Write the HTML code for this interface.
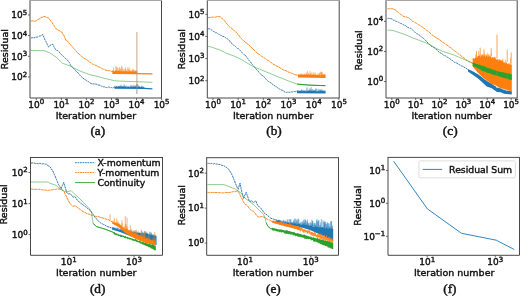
<!DOCTYPE html>
<html><head><meta charset="utf-8"><title>Residual plots</title>
<style>
html,body{margin:0;padding:0;background:#fff;width:520px;height:296px;overflow:hidden}
svg{display:block;filter:blur(0.4px)}
.t{font-family:"DejaVu Sans","Liberation Sans",sans-serif;font-size:9.0px;fill:#111;stroke:#111;stroke-width:0.4}
.s{font-size:7.0px}
.l{font-family:"DejaVu Sans","Liberation Sans",sans-serif;font-size:9.5px;fill:#111;stroke:#111;stroke-width:0.4}
.c{font-family:"Liberation Serif","DejaVu Serif",serif;font-size:13.3px;fill:#111;stroke:#111;stroke-width:0.45}
.lg{font-size:9.3px}
.sp{fill:none;stroke:#484848;stroke-width:1.0}
.tk{stroke:#444;stroke-width:0.8}
</style></head><body>
<svg width="520" height="296" viewBox="0 0 520 296">
<rect width="520" height="296" fill="#fff"/>
<polyline points="30.80,38.00 31.87,37.80 32.94,37.74 34.01,37.91 35.09,37.34 36.16,37.22 37.23,37.14 38.30,36.90 39.45,36.04 40.60,35.76 41.75,35.29 42.90,34.60 44.05,37.71 45.20,40.30 46.33,42.23 47.47,44.72 48.60,47.20 49.80,45.68 51.00,44.90 52.80,44.20 54.15,47.13 55.50,49.50 56.67,50.44 57.83,50.62 59.00,51.80 60.13,53.37 61.27,54.48 62.40,55.20 63.53,56.51 64.67,57.64 65.80,58.70 66.95,59.54 68.10,61.00 69.27,62.46 70.43,64.83 71.60,66.70 72.75,67.45 73.90,68.72 75.05,69.92 76.20,71.30 77.33,72.03 78.47,73.57 79.60,74.70 80.73,76.21 81.87,77.07 83.00,78.20 84.15,79.09 85.30,79.73 86.45,80.65 87.60,81.23 88.75,81.83 89.90,82.80 90.92,83.49 91.94,83.73 92.96,83.83 93.98,83.95 95.00,84.00 96.00,84.17 97.00,84.42 98.00,85.00 99.06,85.11 100.12,85.21 101.19,86.14 102.25,86.11 103.31,86.81 104.38,86.70 105.44,87.51 106.50,87.40 107.50,87.74 108.50,87.00 109.50,87.21 110.50,87.87 111.50,87.50 112.50,87.98 113.50,87.48 114.50,87.60" fill="none" stroke="#2068a4" stroke-width="0.85" stroke-dasharray="2.2 0.6" stroke-linejoin="round"/>
<polygon points="114.50,86.17 115.00,86.74 115.50,86.89 116.00,86.39 116.50,86.21 117.00,86.47 117.50,87.10 118.00,86.90 118.50,86.27 119.00,86.41 119.50,86.27 120.00,86.23 120.50,86.98 121.00,86.36 121.50,86.75 122.00,86.65 122.50,86.40 123.00,86.95 123.50,86.35 124.00,86.87 124.50,86.35 125.00,86.66 125.50,86.46 126.00,86.52 126.50,87.23 127.00,87.07 127.50,86.58 128.00,87.17 128.50,86.50 129.00,86.69 129.50,87.16 130.00,86.95 130.50,86.41 131.00,87.31 131.50,86.54 132.00,86.59 132.50,87.11 133.00,86.68 133.50,86.65 134.00,86.43 134.50,86.46 135.00,86.96 135.50,86.62 136.00,86.99 136.50,86.77 137.00,86.85 137.50,87.37 138.00,86.90 138.50,87.00 139.00,87.29 139.50,86.62 140.00,86.60 140.50,87.36 141.00,87.27 141.50,86.71 142.00,86.66 142.50,87.21 143.00,87.42 143.50,86.68 144.00,87.44 144.40,87.00 144.40,89.00 114.50,88.70" fill="#1f77b4"/>
<line x1="114.80" y1="85.63" x2="114.80" y2="87.10" stroke="#1f77b4" stroke-width="0.45"/>
<line x1="115.45" y1="86.27" x2="115.45" y2="87.11" stroke="#1f77b4" stroke-width="0.45"/>
<line x1="115.86" y1="86.61" x2="115.86" y2="87.12" stroke="#1f77b4" stroke-width="0.45"/>
<line x1="116.68" y1="86.45" x2="116.68" y2="87.13" stroke="#1f77b4" stroke-width="0.45"/>
<line x1="117.38" y1="86.42" x2="117.38" y2="87.14" stroke="#1f77b4" stroke-width="0.45"/>
<line x1="118.14" y1="85.71" x2="118.14" y2="87.15" stroke="#1f77b4" stroke-width="0.45"/>
<line x1="118.64" y1="86.52" x2="118.64" y2="87.16" stroke="#1f77b4" stroke-width="0.45"/>
<line x1="119.34" y1="86.63" x2="119.34" y2="87.16" stroke="#1f77b4" stroke-width="0.45"/>
<line x1="119.81" y1="85.78" x2="119.81" y2="87.17" stroke="#1f77b4" stroke-width="0.45"/>
<line x1="120.58" y1="85.63" x2="120.58" y2="87.18" stroke="#1f77b4" stroke-width="0.45"/>
<line x1="121.08" y1="84.67" x2="121.08" y2="87.19" stroke="#1f77b4" stroke-width="0.45"/>
<line x1="121.53" y1="86.69" x2="121.53" y2="87.19" stroke="#1f77b4" stroke-width="0.45"/>
<line x1="122.02" y1="86.05" x2="122.02" y2="87.20" stroke="#1f77b4" stroke-width="0.45"/>
<line x1="122.41" y1="86.56" x2="122.41" y2="87.21" stroke="#1f77b4" stroke-width="0.45"/>
<line x1="122.95" y1="85.72" x2="122.95" y2="87.21" stroke="#1f77b4" stroke-width="0.45"/>
<line x1="123.37" y1="86.24" x2="123.37" y2="87.22" stroke="#1f77b4" stroke-width="0.45"/>
<line x1="124.16" y1="84.31" x2="124.16" y2="87.23" stroke="#1f77b4" stroke-width="0.45"/>
<line x1="124.83" y1="85.34" x2="124.83" y2="87.24" stroke="#1f77b4" stroke-width="0.45"/>
<line x1="125.47" y1="86.64" x2="125.47" y2="87.25" stroke="#1f77b4" stroke-width="0.45"/>
<line x1="125.85" y1="86.75" x2="125.85" y2="87.25" stroke="#1f77b4" stroke-width="0.45"/>
<line x1="126.65" y1="85.35" x2="126.65" y2="87.26" stroke="#1f77b4" stroke-width="0.45"/>
<line x1="127.47" y1="86.77" x2="127.47" y2="87.27" stroke="#1f77b4" stroke-width="0.45"/>
<line x1="128.14" y1="86.02" x2="128.14" y2="87.28" stroke="#1f77b4" stroke-width="0.45"/>
<line x1="128.85" y1="86.40" x2="128.85" y2="87.29" stroke="#1f77b4" stroke-width="0.45"/>
<line x1="129.69" y1="86.76" x2="129.69" y2="87.30" stroke="#1f77b4" stroke-width="0.45"/>
<line x1="130.31" y1="85.35" x2="130.31" y2="87.31" stroke="#1f77b4" stroke-width="0.45"/>
<line x1="131.10" y1="85.37" x2="131.10" y2="87.32" stroke="#1f77b4" stroke-width="0.45"/>
<line x1="131.80" y1="85.22" x2="131.80" y2="87.33" stroke="#1f77b4" stroke-width="0.45"/>
<line x1="132.60" y1="86.40" x2="132.60" y2="87.34" stroke="#1f77b4" stroke-width="0.45"/>
<line x1="133.29" y1="84.81" x2="133.29" y2="87.35" stroke="#1f77b4" stroke-width="0.45"/>
<line x1="134.06" y1="86.25" x2="134.06" y2="87.36" stroke="#1f77b4" stroke-width="0.45"/>
<line x1="134.80" y1="84.89" x2="134.80" y2="87.37" stroke="#1f77b4" stroke-width="0.45"/>
<line x1="135.44" y1="85.68" x2="135.44" y2="87.38" stroke="#1f77b4" stroke-width="0.45"/>
<line x1="135.98" y1="85.80" x2="135.98" y2="87.39" stroke="#1f77b4" stroke-width="0.45"/>
<line x1="136.63" y1="86.85" x2="136.63" y2="87.40" stroke="#1f77b4" stroke-width="0.45"/>
<line x1="137.30" y1="84.26" x2="137.30" y2="87.41" stroke="#1f77b4" stroke-width="0.45"/>
<line x1="138.08" y1="85.29" x2="138.08" y2="87.42" stroke="#1f77b4" stroke-width="0.45"/>
<line x1="138.63" y1="85.34" x2="138.63" y2="87.42" stroke="#1f77b4" stroke-width="0.45"/>
<line x1="139.27" y1="86.27" x2="139.27" y2="87.43" stroke="#1f77b4" stroke-width="0.45"/>
<line x1="140.03" y1="86.90" x2="140.03" y2="87.44" stroke="#1f77b4" stroke-width="0.45"/>
<line x1="140.75" y1="86.94" x2="140.75" y2="87.45" stroke="#1f77b4" stroke-width="0.45"/>
<line x1="141.40" y1="86.33" x2="141.40" y2="87.46" stroke="#1f77b4" stroke-width="0.45"/>
<line x1="141.87" y1="85.88" x2="141.87" y2="87.47" stroke="#1f77b4" stroke-width="0.45"/>
<line x1="142.47" y1="86.15" x2="142.47" y2="87.47" stroke="#1f77b4" stroke-width="0.45"/>
<line x1="143.27" y1="86.80" x2="143.27" y2="87.48" stroke="#1f77b4" stroke-width="0.45"/>
<line x1="143.64" y1="86.76" x2="143.64" y2="87.49" stroke="#1f77b4" stroke-width="0.45"/>
<polyline points="144.00,88.40 152.40,88.80" fill="none" stroke="#1f77b4" stroke-width="1.2" stroke-linejoin="round"/>
<polyline points="30.80,21.10 32.00,20.90 33.20,20.85 34.40,21.27 35.60,21.00 36.70,20.42 37.80,19.62 38.90,19.21 40.00,18.30 41.00,17.72 42.00,17.45 43.00,16.69 44.00,16.40 45.08,16.68 46.15,17.23 47.22,17.62 48.30,17.70 49.53,19.53 50.77,20.83 52.00,22.50 53.30,24.62 54.60,26.52 55.90,28.70 56.93,29.08 57.97,29.90 59.00,30.50 60.40,31.45 61.80,32.00 63.00,34.21 64.20,36.00 65.90,40.30 67.60,41.10 68.65,42.50 69.70,43.92 70.75,44.79 71.80,46.20 72.82,47.18 73.84,48.53 74.86,49.61 75.88,50.75 76.90,52.10 77.92,52.95 78.93,53.98 79.95,54.80 80.97,55.59 81.98,56.80 83.00,57.50 84.15,58.49 85.30,58.90 86.45,59.69 87.60,60.28 88.75,61.07 89.90,62.39 91.05,62.71 92.20,63.80 93.60,64.53 95.00,65.00 96.00,65.54 97.00,65.89 98.00,66.50 99.05,67.25 100.10,67.36 101.15,68.01 102.20,68.80 103.47,69.24 104.73,69.45 106.00,70.20 107.10,70.63 108.20,70.51 109.30,70.68 110.40,70.86 111.50,71.44 112.60,71.60" fill="none" stroke="#ff7f0e" stroke-width="0.95" stroke-dasharray="3 0.5" stroke-linejoin="round"/>
<polygon points="112.40,70.85 112.90,71.04 113.40,71.07 113.90,71.23 114.40,71.39 114.90,71.12 115.40,70.65 115.90,70.93 116.40,70.64 116.90,70.48 117.40,70.95 117.90,71.20 118.40,70.68 118.90,70.78 119.40,70.86 119.90,71.22 120.40,71.05 120.90,71.15 121.40,71.30 121.90,70.95 122.40,71.35 122.90,71.48 123.40,70.66 123.90,71.52 124.40,71.32 124.90,70.73 125.40,71.06 125.90,71.24 126.40,71.54 126.90,71.01 127.40,71.21 127.90,71.53 128.40,71.45 128.90,71.61 129.40,71.14 129.90,71.33 130.40,70.90 130.90,71.42 131.40,71.52 131.90,71.36 132.40,71.44 132.90,70.94 133.40,71.64 133.90,71.73 134.40,71.73 134.90,71.30 135.40,71.56 135.90,71.10 136.40,71.70 136.90,71.65 137.20,71.30 137.20,74.30 112.40,73.90" fill="#ff7f0e"/>
<line x1="112.70" y1="70.21" x2="112.70" y2="71.40" stroke="#ff7f0e" stroke-width="0.45"/>
<line x1="113.03" y1="69.66" x2="113.03" y2="71.41" stroke="#ff7f0e" stroke-width="0.45"/>
<line x1="113.55" y1="67.38" x2="113.55" y2="71.42" stroke="#ff7f0e" stroke-width="0.45"/>
<line x1="114.05" y1="70.87" x2="114.05" y2="71.43" stroke="#ff7f0e" stroke-width="0.45"/>
<line x1="114.67" y1="70.76" x2="114.67" y2="71.44" stroke="#ff7f0e" stroke-width="0.45"/>
<line x1="115.29" y1="70.27" x2="115.29" y2="71.45" stroke="#ff7f0e" stroke-width="0.45"/>
<line x1="115.73" y1="66.07" x2="115.73" y2="71.45" stroke="#ff7f0e" stroke-width="0.45"/>
<line x1="116.08" y1="70.40" x2="116.08" y2="71.46" stroke="#ff7f0e" stroke-width="0.45"/>
<line x1="116.59" y1="66.59" x2="116.59" y2="71.47" stroke="#ff7f0e" stroke-width="0.45"/>
<line x1="117.22" y1="66.86" x2="117.22" y2="71.48" stroke="#ff7f0e" stroke-width="0.45"/>
<line x1="117.90" y1="68.32" x2="117.90" y2="71.49" stroke="#ff7f0e" stroke-width="0.45"/>
<line x1="118.58" y1="70.73" x2="118.58" y2="71.50" stroke="#ff7f0e" stroke-width="0.45"/>
<line x1="118.97" y1="68.23" x2="118.97" y2="71.51" stroke="#ff7f0e" stroke-width="0.45"/>
<line x1="119.39" y1="66.96" x2="119.39" y2="71.51" stroke="#ff7f0e" stroke-width="0.45"/>
<line x1="119.94" y1="68.54" x2="119.94" y2="71.52" stroke="#ff7f0e" stroke-width="0.45"/>
<line x1="120.58" y1="68.33" x2="120.58" y2="71.53" stroke="#ff7f0e" stroke-width="0.45"/>
<line x1="121.00" y1="69.40" x2="121.00" y2="71.54" stroke="#ff7f0e" stroke-width="0.45"/>
<line x1="121.64" y1="66.03" x2="121.64" y2="71.55" stroke="#ff7f0e" stroke-width="0.45"/>
<line x1="122.03" y1="66.39" x2="122.03" y2="71.56" stroke="#ff7f0e" stroke-width="0.45"/>
<line x1="122.71" y1="68.58" x2="122.71" y2="71.57" stroke="#ff7f0e" stroke-width="0.45"/>
<line x1="123.24" y1="70.36" x2="123.24" y2="71.57" stroke="#ff7f0e" stroke-width="0.45"/>
<line x1="123.76" y1="68.72" x2="123.76" y2="71.58" stroke="#ff7f0e" stroke-width="0.45"/>
<line x1="124.30" y1="71.04" x2="124.30" y2="71.59" stroke="#ff7f0e" stroke-width="0.45"/>
<line x1="124.99" y1="68.81" x2="124.99" y2="71.60" stroke="#ff7f0e" stroke-width="0.45"/>
<line x1="125.45" y1="67.19" x2="125.45" y2="71.61" stroke="#ff7f0e" stroke-width="0.45"/>
<line x1="125.97" y1="69.12" x2="125.97" y2="71.62" stroke="#ff7f0e" stroke-width="0.45"/>
<line x1="126.55" y1="70.99" x2="126.55" y2="71.63" stroke="#ff7f0e" stroke-width="0.45"/>
<line x1="127.06" y1="69.66" x2="127.06" y2="71.64" stroke="#ff7f0e" stroke-width="0.45"/>
<line x1="127.75" y1="66.96" x2="127.75" y2="71.65" stroke="#ff7f0e" stroke-width="0.45"/>
<line x1="128.15" y1="69.39" x2="128.15" y2="71.65" stroke="#ff7f0e" stroke-width="0.45"/>
<line x1="128.51" y1="69.59" x2="128.51" y2="71.66" stroke="#ff7f0e" stroke-width="0.45"/>
<line x1="129.13" y1="67.09" x2="129.13" y2="71.67" stroke="#ff7f0e" stroke-width="0.45"/>
<line x1="129.62" y1="70.13" x2="129.62" y2="71.68" stroke="#ff7f0e" stroke-width="0.45"/>
<line x1="130.00" y1="68.68" x2="130.00" y2="71.68" stroke="#ff7f0e" stroke-width="0.45"/>
<line x1="130.67" y1="70.89" x2="130.67" y2="71.69" stroke="#ff7f0e" stroke-width="0.45"/>
<line x1="131.28" y1="71.18" x2="131.28" y2="71.70" stroke="#ff7f0e" stroke-width="0.45"/>
<line x1="131.66" y1="70.66" x2="131.66" y2="71.71" stroke="#ff7f0e" stroke-width="0.45"/>
<line x1="132.23" y1="70.39" x2="132.23" y2="71.72" stroke="#ff7f0e" stroke-width="0.45"/>
<line x1="132.68" y1="69.28" x2="132.68" y2="71.73" stroke="#ff7f0e" stroke-width="0.45"/>
<line x1="133.02" y1="68.82" x2="133.02" y2="71.73" stroke="#ff7f0e" stroke-width="0.45"/>
<line x1="133.37" y1="69.72" x2="133.37" y2="71.74" stroke="#ff7f0e" stroke-width="0.45"/>
<line x1="133.77" y1="70.80" x2="133.77" y2="71.74" stroke="#ff7f0e" stroke-width="0.45"/>
<line x1="134.28" y1="70.04" x2="134.28" y2="71.75" stroke="#ff7f0e" stroke-width="0.45"/>
<line x1="134.73" y1="70.32" x2="134.73" y2="71.76" stroke="#ff7f0e" stroke-width="0.45"/>
<line x1="135.24" y1="71.06" x2="135.24" y2="71.77" stroke="#ff7f0e" stroke-width="0.45"/>
<line x1="135.62" y1="70.30" x2="135.62" y2="71.77" stroke="#ff7f0e" stroke-width="0.45"/>
<line x1="136.18" y1="70.72" x2="136.18" y2="71.78" stroke="#ff7f0e" stroke-width="0.45"/>
<line x1="136.82" y1="70.61" x2="136.82" y2="71.79" stroke="#ff7f0e" stroke-width="0.45"/>
<polyline points="137.20,73.60 152.40,73.90" fill="none" stroke="#ff7f0e" stroke-width="1.4" stroke-linejoin="round"/>
<polyline points="30.80,50.60 44.00,50.60 49.80,52.90 56.70,57.50 62.40,63.30 65.80,64.40 71.60,66.70 76.90,69.50 80.80,71.30 89.90,74.70 95.00,75.80 98.00,76.60 108.80,79.40 114.50,80.70 118.00,81.00 137.00,81.70 152.40,82.30" fill="none" stroke="#2ca02c" stroke-width="0.85" stroke-opacity="0.62" stroke-linejoin="round"/>
<line x1="136.90" y1="32.00" x2="136.90" y2="89.00" stroke="#b08c5c" stroke-width="0.75"/>
<line x1="136.90" y1="84.00" x2="136.90" y2="94.00" stroke="#6a7f96" stroke-width="0.75"/>
<polyline points="207.80,28.80 209.70,28.80 210.90,29.36 212.10,30.54 213.30,31.37 214.50,31.90 215.51,32.74 216.53,32.78 217.54,33.29 218.56,34.30 219.57,34.25 220.59,35.38 221.60,35.50 222.78,36.51 223.96,36.61 225.14,37.39 226.32,38.48 227.50,39.00 228.68,39.99 229.86,41.04 231.04,42.81 232.22,43.66 233.40,44.90 234.41,45.97 235.43,46.29 236.44,47.35 237.46,48.42 238.47,48.73 239.49,49.72 240.50,50.80 241.68,52.13 242.86,53.49 244.04,54.71 245.22,55.21 246.40,56.70 247.60,58.30 248.80,60.11 250.00,61.50 251.16,63.00 252.32,64.65 253.48,65.75 254.64,67.16 255.80,69.00 256.80,69.76 257.80,70.78 258.80,72.27 259.80,73.30 260.89,74.30 261.98,75.33 263.07,75.98 264.16,77.00 265.24,78.01 266.33,79.51 267.42,80.61 268.51,81.55 269.60,82.20 270.69,82.63 271.78,83.36 272.87,84.83 273.96,85.19 275.04,86.19 276.13,86.59 277.22,87.46 278.31,88.26 279.40,89.00 280.55,89.53 281.70,90.25 282.85,90.36 284.00,91.49 285.15,92.19 286.30,92.50 287.52,92.12 288.75,92.21 289.98,92.32 291.20,92.00 292.33,91.86 293.47,91.62 294.60,91.53 295.73,91.74 296.87,91.28 298.00,91.60" fill="none" stroke="#2068a4" stroke-width="0.85" stroke-dasharray="2.2 0.6" stroke-linejoin="round"/>
<polygon points="297.00,91.19 297.50,91.11 298.00,91.01 298.50,91.17 299.00,90.94 299.50,90.72 300.00,90.92 300.50,90.83 301.00,91.31 301.50,91.14 302.00,90.59 302.50,91.25 303.00,91.09 303.50,91.12 304.00,91.16 304.50,90.76 305.00,91.25 305.50,91.24 306.00,91.06 306.50,91.13 307.00,91.14 307.50,90.78 308.00,91.10 308.50,90.45 309.00,90.73 309.50,90.86 310.00,90.40 310.50,90.75 311.00,91.04 311.50,91.03 312.00,90.64 312.50,91.35 313.00,91.08 313.50,90.75 314.00,91.08 314.50,90.99 315.00,90.96 315.50,90.82 316.00,91.43 316.50,91.08 317.00,91.14 317.50,91.21 318.00,91.43 318.50,90.47 319.00,91.07 319.50,91.20 320.00,90.72 320.50,90.87 321.00,90.52 321.50,90.67 322.00,90.85 322.50,90.58 323.00,90.73 323.50,91.39 324.00,91.04 324.50,91.00 325.00,91.46 325.50,91.07 325.60,91.00 325.60,93.50 297.00,93.20" fill="#1f77b4"/>
<line x1="297.30" y1="89.96" x2="297.30" y2="91.30" stroke="#1f77b4" stroke-width="0.45"/>
<line x1="297.97" y1="90.12" x2="297.97" y2="91.31" stroke="#1f77b4" stroke-width="0.45"/>
<line x1="298.36" y1="90.35" x2="298.36" y2="91.31" stroke="#1f77b4" stroke-width="0.45"/>
<line x1="299.09" y1="90.81" x2="299.09" y2="91.31" stroke="#1f77b4" stroke-width="0.45"/>
<line x1="299.89" y1="90.75" x2="299.89" y2="91.32" stroke="#1f77b4" stroke-width="0.45"/>
<line x1="300.48" y1="90.74" x2="300.48" y2="91.32" stroke="#1f77b4" stroke-width="0.45"/>
<line x1="301.08" y1="90.10" x2="301.08" y2="91.33" stroke="#1f77b4" stroke-width="0.45"/>
<line x1="301.47" y1="89.28" x2="301.47" y2="91.33" stroke="#1f77b4" stroke-width="0.45"/>
<line x1="302.03" y1="90.17" x2="302.03" y2="91.34" stroke="#1f77b4" stroke-width="0.45"/>
<line x1="302.68" y1="90.44" x2="302.68" y2="91.34" stroke="#1f77b4" stroke-width="0.45"/>
<line x1="303.17" y1="89.76" x2="303.17" y2="91.34" stroke="#1f77b4" stroke-width="0.45"/>
<line x1="303.80" y1="90.54" x2="303.80" y2="91.35" stroke="#1f77b4" stroke-width="0.45"/>
<line x1="304.51" y1="90.48" x2="304.51" y2="91.35" stroke="#1f77b4" stroke-width="0.45"/>
<line x1="304.87" y1="90.56" x2="304.87" y2="91.36" stroke="#1f77b4" stroke-width="0.45"/>
<line x1="305.25" y1="90.70" x2="305.25" y2="91.36" stroke="#1f77b4" stroke-width="0.45"/>
<line x1="305.97" y1="90.11" x2="305.97" y2="91.36" stroke="#1f77b4" stroke-width="0.45"/>
<line x1="306.77" y1="88.45" x2="306.77" y2="91.37" stroke="#1f77b4" stroke-width="0.45"/>
<line x1="307.15" y1="87.09" x2="307.15" y2="91.37" stroke="#1f77b4" stroke-width="0.45"/>
<line x1="307.96" y1="90.83" x2="307.96" y2="91.38" stroke="#1f77b4" stroke-width="0.45"/>
<line x1="308.76" y1="90.22" x2="308.76" y2="91.38" stroke="#1f77b4" stroke-width="0.45"/>
<line x1="309.35" y1="88.34" x2="309.35" y2="91.39" stroke="#1f77b4" stroke-width="0.45"/>
<line x1="309.82" y1="89.81" x2="309.82" y2="91.39" stroke="#1f77b4" stroke-width="0.45"/>
<line x1="310.63" y1="88.69" x2="310.63" y2="91.40" stroke="#1f77b4" stroke-width="0.45"/>
<line x1="311.22" y1="87.13" x2="311.22" y2="91.40" stroke="#1f77b4" stroke-width="0.45"/>
<line x1="311.97" y1="89.32" x2="311.97" y2="91.40" stroke="#1f77b4" stroke-width="0.45"/>
<line x1="312.39" y1="89.33" x2="312.39" y2="91.41" stroke="#1f77b4" stroke-width="0.45"/>
<line x1="312.96" y1="90.67" x2="312.96" y2="91.41" stroke="#1f77b4" stroke-width="0.45"/>
<line x1="313.35" y1="89.86" x2="313.35" y2="91.41" stroke="#1f77b4" stroke-width="0.45"/>
<line x1="313.77" y1="90.18" x2="313.77" y2="91.42" stroke="#1f77b4" stroke-width="0.45"/>
<line x1="314.45" y1="90.17" x2="314.45" y2="91.42" stroke="#1f77b4" stroke-width="0.45"/>
<line x1="314.94" y1="89.79" x2="314.94" y2="91.43" stroke="#1f77b4" stroke-width="0.45"/>
<line x1="315.50" y1="89.09" x2="315.50" y2="91.43" stroke="#1f77b4" stroke-width="0.45"/>
<line x1="316.11" y1="88.15" x2="316.11" y2="91.43" stroke="#1f77b4" stroke-width="0.45"/>
<line x1="316.93" y1="89.20" x2="316.93" y2="91.44" stroke="#1f77b4" stroke-width="0.45"/>
<line x1="317.40" y1="90.85" x2="317.40" y2="91.44" stroke="#1f77b4" stroke-width="0.45"/>
<line x1="318.19" y1="88.97" x2="318.19" y2="91.45" stroke="#1f77b4" stroke-width="0.45"/>
<line x1="318.85" y1="90.40" x2="318.85" y2="91.45" stroke="#1f77b4" stroke-width="0.45"/>
<line x1="319.34" y1="89.43" x2="319.34" y2="91.46" stroke="#1f77b4" stroke-width="0.45"/>
<line x1="319.97" y1="89.79" x2="319.97" y2="91.46" stroke="#1f77b4" stroke-width="0.45"/>
<line x1="320.64" y1="89.29" x2="320.64" y2="91.47" stroke="#1f77b4" stroke-width="0.45"/>
<line x1="321.09" y1="90.69" x2="321.09" y2="91.47" stroke="#1f77b4" stroke-width="0.45"/>
<line x1="321.92" y1="88.82" x2="321.92" y2="91.47" stroke="#1f77b4" stroke-width="0.45"/>
<line x1="322.70" y1="90.97" x2="322.70" y2="91.48" stroke="#1f77b4" stroke-width="0.45"/>
<line x1="323.09" y1="90.72" x2="323.09" y2="91.48" stroke="#1f77b4" stroke-width="0.45"/>
<line x1="323.65" y1="90.08" x2="323.65" y2="91.49" stroke="#1f77b4" stroke-width="0.45"/>
<line x1="324.06" y1="90.31" x2="324.06" y2="91.49" stroke="#1f77b4" stroke-width="0.45"/>
<line x1="324.46" y1="90.96" x2="324.46" y2="91.49" stroke="#1f77b4" stroke-width="0.45"/>
<line x1="325.14" y1="90.42" x2="325.14" y2="91.50" stroke="#1f77b4" stroke-width="0.45"/>
<polyline points="207.80,17.70 208.92,17.51 210.03,17.45 211.15,17.18 212.27,17.14 213.38,17.26 214.50,17.00 215.68,17.12 216.86,16.58 218.04,16.53 219.22,16.87 220.40,16.60 221.57,17.84 222.73,19.09 223.90,20.10 225.07,21.40 226.25,23.00 227.43,24.38 228.60,26.00 229.80,27.09 231.00,27.72 232.20,28.79 233.40,29.60 234.57,31.07 235.75,31.85 236.93,33.15 238.10,34.30 239.28,35.92 240.45,37.50 241.62,38.68 242.80,40.20 243.83,40.95 244.86,41.62 245.89,42.91 246.91,43.26 247.94,44.09 248.97,45.21 250.00,46.00 251.00,46.99 252.00,48.11 253.00,48.88 254.00,50.17 255.00,50.75 256.00,51.83 257.00,53.00 258.06,53.82 259.11,54.19 260.17,55.05 261.22,56.02 262.28,56.73 263.33,57.20 264.39,57.84 265.44,58.69 266.50,59.50 267.56,60.32 268.62,60.79 269.69,61.33 270.75,62.38 271.81,62.98 272.88,63.88 273.94,64.58 275.00,65.00 276.00,65.82 277.00,66.11 278.00,66.90 279.00,67.17 280.00,67.75 281.00,68.37 282.00,69.00 283.03,69.75 284.06,70.21 285.09,70.31 286.11,70.86 287.14,71.35 288.17,71.83 289.20,72.40 290.33,72.75 291.46,73.16 292.59,73.46 293.71,74.10 294.84,74.65 295.97,74.91 297.10,75.30 298.50,75.50" fill="none" stroke="#ff7f0e" stroke-width="0.95" stroke-dasharray="3 0.5" stroke-linejoin="round"/>
<polygon points="298.00,74.94 298.50,74.67 299.00,74.28 299.50,74.87 300.00,75.00 300.50,74.40 301.00,74.14 301.50,74.64 302.00,74.67 302.50,74.70 303.00,75.10 303.50,74.79 304.00,74.95 304.50,74.21 305.00,74.70 305.50,74.94 306.00,74.24 306.50,74.24 307.00,74.90 307.50,75.07 308.00,74.26 308.50,74.81 309.00,74.32 309.50,74.93 310.00,74.84 310.50,74.44 311.00,74.41 311.50,74.96 312.00,74.72 312.50,74.97 313.00,74.60 313.50,74.55 314.00,75.18 314.50,74.89 315.00,74.72 315.50,74.76 316.00,74.95 316.50,74.94 317.00,75.15 317.50,74.65 318.00,75.07 318.50,74.92 319.00,75.11 319.50,75.06 320.00,75.09 320.50,75.15 321.00,75.22 321.50,74.91 322.00,74.80 322.50,74.99 323.00,75.08 323.50,74.71 324.00,74.71 324.50,74.44 325.00,75.04 325.50,75.29 325.60,74.80 325.60,77.90 298.00,77.60" fill="#ff7f0e"/>
<line x1="298.30" y1="74.36" x2="298.30" y2="75.10" stroke="#ff7f0e" stroke-width="0.45"/>
<line x1="298.70" y1="74.50" x2="298.70" y2="75.11" stroke="#ff7f0e" stroke-width="0.45"/>
<line x1="299.22" y1="74.41" x2="299.22" y2="75.11" stroke="#ff7f0e" stroke-width="0.45"/>
<line x1="299.98" y1="74.60" x2="299.98" y2="75.11" stroke="#ff7f0e" stroke-width="0.45"/>
<line x1="300.44" y1="74.56" x2="300.44" y2="75.12" stroke="#ff7f0e" stroke-width="0.45"/>
<line x1="301.06" y1="73.36" x2="301.06" y2="75.12" stroke="#ff7f0e" stroke-width="0.45"/>
<line x1="301.47" y1="74.60" x2="301.47" y2="75.13" stroke="#ff7f0e" stroke-width="0.45"/>
<line x1="302.00" y1="73.73" x2="302.00" y2="75.13" stroke="#ff7f0e" stroke-width="0.45"/>
<line x1="302.73" y1="74.62" x2="302.73" y2="75.13" stroke="#ff7f0e" stroke-width="0.45"/>
<line x1="303.11" y1="74.47" x2="303.11" y2="75.14" stroke="#ff7f0e" stroke-width="0.45"/>
<line x1="303.53" y1="74.37" x2="303.53" y2="75.14" stroke="#ff7f0e" stroke-width="0.45"/>
<line x1="304.18" y1="73.36" x2="304.18" y2="75.14" stroke="#ff7f0e" stroke-width="0.45"/>
<line x1="304.61" y1="74.44" x2="304.61" y2="75.15" stroke="#ff7f0e" stroke-width="0.45"/>
<line x1="305.06" y1="74.45" x2="305.06" y2="75.15" stroke="#ff7f0e" stroke-width="0.45"/>
<line x1="305.72" y1="74.11" x2="305.72" y2="75.16" stroke="#ff7f0e" stroke-width="0.45"/>
<line x1="306.29" y1="71.90" x2="306.29" y2="75.16" stroke="#ff7f0e" stroke-width="0.45"/>
<line x1="306.84" y1="74.19" x2="306.84" y2="75.16" stroke="#ff7f0e" stroke-width="0.45"/>
<line x1="307.56" y1="70.82" x2="307.56" y2="75.17" stroke="#ff7f0e" stroke-width="0.45"/>
<line x1="308.04" y1="72.89" x2="308.04" y2="75.17" stroke="#ff7f0e" stroke-width="0.45"/>
<line x1="308.79" y1="73.17" x2="308.79" y2="75.18" stroke="#ff7f0e" stroke-width="0.45"/>
<line x1="309.22" y1="74.64" x2="309.22" y2="75.18" stroke="#ff7f0e" stroke-width="0.45"/>
<line x1="309.96" y1="71.11" x2="309.96" y2="75.19" stroke="#ff7f0e" stroke-width="0.45"/>
<line x1="310.46" y1="72.83" x2="310.46" y2="75.19" stroke="#ff7f0e" stroke-width="0.45"/>
<line x1="311.02" y1="74.05" x2="311.02" y2="75.19" stroke="#ff7f0e" stroke-width="0.45"/>
<line x1="311.78" y1="72.18" x2="311.78" y2="75.20" stroke="#ff7f0e" stroke-width="0.45"/>
<line x1="312.22" y1="74.70" x2="312.22" y2="75.20" stroke="#ff7f0e" stroke-width="0.45"/>
<line x1="312.76" y1="73.73" x2="312.76" y2="75.21" stroke="#ff7f0e" stroke-width="0.45"/>
<line x1="313.44" y1="72.22" x2="313.44" y2="75.21" stroke="#ff7f0e" stroke-width="0.45"/>
<line x1="314.03" y1="74.53" x2="314.03" y2="75.22" stroke="#ff7f0e" stroke-width="0.45"/>
<line x1="314.43" y1="74.18" x2="314.43" y2="75.22" stroke="#ff7f0e" stroke-width="0.45"/>
<line x1="314.88" y1="72.45" x2="314.88" y2="75.22" stroke="#ff7f0e" stroke-width="0.45"/>
<line x1="315.43" y1="73.44" x2="315.43" y2="75.23" stroke="#ff7f0e" stroke-width="0.45"/>
<line x1="316.20" y1="74.43" x2="316.20" y2="75.23" stroke="#ff7f0e" stroke-width="0.45"/>
<line x1="316.77" y1="74.62" x2="316.77" y2="75.24" stroke="#ff7f0e" stroke-width="0.45"/>
<line x1="317.44" y1="74.74" x2="317.44" y2="75.24" stroke="#ff7f0e" stroke-width="0.45"/>
<line x1="318.13" y1="72.97" x2="318.13" y2="75.25" stroke="#ff7f0e" stroke-width="0.45"/>
<line x1="318.82" y1="74.70" x2="318.82" y2="75.25" stroke="#ff7f0e" stroke-width="0.45"/>
<line x1="319.27" y1="73.00" x2="319.27" y2="75.25" stroke="#ff7f0e" stroke-width="0.45"/>
<line x1="319.64" y1="73.77" x2="319.64" y2="75.26" stroke="#ff7f0e" stroke-width="0.45"/>
<line x1="320.18" y1="71.49" x2="320.18" y2="75.26" stroke="#ff7f0e" stroke-width="0.45"/>
<line x1="320.76" y1="71.87" x2="320.76" y2="75.26" stroke="#ff7f0e" stroke-width="0.45"/>
<line x1="321.23" y1="72.34" x2="321.23" y2="75.27" stroke="#ff7f0e" stroke-width="0.45"/>
<line x1="321.74" y1="71.84" x2="321.74" y2="75.27" stroke="#ff7f0e" stroke-width="0.45"/>
<line x1="322.11" y1="72.18" x2="322.11" y2="75.27" stroke="#ff7f0e" stroke-width="0.45"/>
<line x1="322.53" y1="73.09" x2="322.53" y2="75.28" stroke="#ff7f0e" stroke-width="0.45"/>
<line x1="323.09" y1="74.48" x2="323.09" y2="75.28" stroke="#ff7f0e" stroke-width="0.45"/>
<line x1="323.79" y1="73.87" x2="323.79" y2="75.29" stroke="#ff7f0e" stroke-width="0.45"/>
<line x1="324.26" y1="74.71" x2="324.26" y2="75.29" stroke="#ff7f0e" stroke-width="0.45"/>
<line x1="324.72" y1="73.75" x2="324.72" y2="75.29" stroke="#ff7f0e" stroke-width="0.45"/>
<line x1="325.37" y1="74.25" x2="325.37" y2="75.30" stroke="#ff7f0e" stroke-width="0.45"/>
<polyline points="207.80,46.10 212.10,47.30 219.20,49.70 226.30,53.20 235.70,56.70 242.80,60.30 252.30,66.20 260.00,69.40 269.60,73.30 279.40,77.30 289.20,81.20 297.10,84.10 308.80,85.10 325.50,85.70" fill="none" stroke="#2ca02c" stroke-width="0.85" stroke-opacity="0.62" stroke-linejoin="round"/>
<polyline points="297.10,84.10 308.80,85.10 325.50,85.70" fill="none" stroke="#2ca02c" stroke-width="1.0" stroke-linejoin="round"/>
<polyline points="387.50,18.60 388.70,18.32 389.90,18.53 391.10,18.60 392.20,19.14 393.30,20.06 394.40,20.30 395.42,21.03 396.44,21.41 397.46,21.46 398.48,22.21 399.50,22.80 400.52,23.45 401.54,23.62 402.56,24.34 403.58,24.77 404.60,25.30 405.73,25.66 406.87,27.04 408.00,27.40 409.10,28.04 410.20,28.06 411.30,28.70 412.38,29.83 413.45,30.65 414.53,31.76 415.60,32.90 416.65,33.58 417.70,34.06 418.75,34.74 419.80,35.50 420.82,36.26 421.84,37.30 422.86,37.85 423.88,38.65 424.90,39.70 425.92,40.92 426.94,41.70 427.96,43.19 428.98,43.98 430.00,45.00 431.00,45.87 432.00,46.32 433.00,47.38 434.00,47.58 435.00,48.33 436.00,49.30 437.00,49.89 438.00,51.17 439.00,52.07 440.00,52.80 441.13,53.26 442.27,54.10 443.40,55.09 444.53,55.60 445.67,55.93 446.80,56.90 447.93,57.49 449.07,58.23 450.20,58.99 451.33,59.97 452.47,60.52 453.60,61.60 454.72,62.46 455.83,62.68 456.95,63.31 458.07,63.97 459.18,64.62 460.30,65.00 461.43,65.91 462.57,66.29 463.70,66.93 464.83,67.67 465.97,68.08 467.10,69.10 468.55,69.78 470.00,70.60" fill="none" stroke="#2068a4" stroke-width="0.85" stroke-dasharray="2.2 0.6" stroke-linejoin="round"/>
<polygon points="468.00,69.32 468.60,69.76 469.20,69.91 469.80,70.11 470.40,70.35 471.00,70.26 471.60,70.72 472.20,71.01 472.80,71.51 473.40,71.50 474.00,71.98 474.60,72.37 475.20,72.86 475.80,73.20 476.40,73.38 477.00,73.43 477.60,74.11 478.20,74.61 478.80,74.85 479.40,75.18 480.00,75.71 480.60,75.95 481.20,76.74 481.80,77.35 482.40,77.51 483.00,78.09 483.60,78.66 484.20,78.77 484.80,79.71 485.40,80.01 486.00,80.24 486.60,80.67 487.20,81.12 487.80,81.65 488.40,82.05 489.00,82.16 489.60,82.85 490.20,82.84 490.80,83.23 491.40,83.35 492.00,84.23 492.60,84.15 493.20,85.04 493.80,85.25 494.40,85.69 495.00,86.11 495.60,86.36 496.20,87.18 496.80,87.65 497.40,87.77 498.00,87.77 498.60,87.61 499.20,88.16 499.80,87.96 500.40,88.45 501.00,88.25 501.60,88.77 502.20,89.24 502.80,89.17 503.40,89.71 504.00,89.75 504.60,89.82 505.20,90.01 505.80,90.59 506.40,90.66 507.00,90.60 507.60,90.48 508.20,90.80 508.80,90.94 509.40,90.83 510.00,91.06 510.60,91.28 511.20,90.91 511.80,91.30 511.80,94.40 504.00,93.80 500.80,92.20 497.00,91.90 491.80,88.20 486.70,86.60 482.80,82.80 477.70,78.20 472.00,74.30 468.00,71.40" fill="#1f77b4"/>
<polyline points="387.50,8.80 388.56,8.62 389.62,8.78 390.68,8.59 391.74,8.73 392.80,8.80 393.90,9.41 395.00,9.74 396.10,10.50 397.23,11.51 398.37,12.36 399.50,13.50 400.63,14.37 401.77,15.07 402.90,16.00 404.15,16.54 405.40,16.90 406.53,16.89 407.67,17.54 408.80,17.70 410.05,18.79 411.30,20.30 412.38,21.20 413.45,21.61 414.53,22.16 415.60,22.80 416.65,23.37 417.70,24.12 418.75,24.79 419.80,25.30 420.82,26.13 421.84,26.81 422.86,27.33 423.88,28.32 424.90,28.70 425.90,29.74 426.90,30.59 427.90,31.17 428.90,32.02 429.90,32.90 430.92,33.79 431.95,34.84 432.98,35.47 434.00,36.30 435.00,36.97 436.00,37.56 437.00,38.49 438.00,38.79 439.00,39.28 440.00,40.20 441.15,41.14 442.30,42.04 443.45,42.74 444.60,43.46 445.75,44.35 446.90,45.00 448.02,45.73 449.13,46.76 450.25,47.29 451.37,48.17 452.48,49.22 453.60,50.10 454.64,50.91 455.69,51.66 456.73,52.26 457.78,53.46 458.82,54.17 459.87,54.81 460.91,55.66 461.96,56.53 463.00,57.40 464.00,57.96 465.00,58.58 466.00,59.81 467.00,60.56 468.00,61.00 469.20,61.72 470.40,62.47 471.60,62.83 472.80,63.50" fill="none" stroke="#ff7f0e" stroke-width="0.95" stroke-dasharray="3 0.5" stroke-linejoin="round"/>
<polygon points="472.70,59.79 473.20,58.07 473.70,59.23 474.20,58.56 474.70,59.23 475.20,56.93 475.70,58.53 476.20,56.59 476.70,57.46 477.20,58.33 477.70,55.65 478.20,56.08 478.70,56.02 479.20,55.97 479.70,55.20 480.20,57.27 480.70,56.97 481.20,55.79 481.70,55.59 482.20,56.09 482.70,54.60 483.20,54.47 483.70,56.63 484.20,55.00 484.70,55.59 485.20,56.81 485.70,57.02 486.20,55.80 486.70,55.20 487.20,55.52 487.70,57.25 488.20,57.27 488.70,55.54 489.20,57.30 489.70,56.16 490.20,56.65 490.70,56.05 491.20,58.08 491.70,58.57 492.20,56.69 492.70,57.99 493.20,57.03 493.70,59.01 494.20,57.03 494.70,57.36 495.20,59.16 495.70,58.27 496.20,59.99 496.70,60.09 497.20,59.87 497.70,58.55 498.20,60.19 498.70,61.01 499.20,59.91 499.70,59.15 500.20,59.71 500.70,60.14 501.20,61.42 501.70,60.31 502.20,60.50 502.70,60.88 503.20,62.22 503.70,62.78 504.20,61.93 504.70,62.91 505.20,63.72 505.70,63.19 506.20,62.43 506.70,62.78 507.20,64.58 507.70,64.07 508.20,63.22 508.70,64.33 509.20,63.07 509.70,65.56 510.20,64.31 510.70,64.71 511.20,64.88 511.70,63.78 511.80,65.00 511.80,91.50 507.00,90.00 503.00,88.80 500.00,88.00 495.70,85.50 491.80,84.00 487.00,80.80 482.80,77.50 477.70,72.50 472.60,66.40" fill="#ff7f0e"/>
<line x1="473.00" y1="57.71" x2="473.00" y2="59.88" stroke="#ff7f0e" stroke-width="0.55"/>
<line x1="473.80" y1="58.31" x2="473.80" y2="59.55" stroke="#ff7f0e" stroke-width="0.55"/>
<line x1="474.96" y1="58.04" x2="474.96" y2="59.07" stroke="#ff7f0e" stroke-width="0.55"/>
<line x1="475.76" y1="54.63" x2="475.76" y2="58.75" stroke="#ff7f0e" stroke-width="0.55"/>
<line x1="476.53" y1="56.99" x2="476.53" y2="58.43" stroke="#ff7f0e" stroke-width="0.55"/>
<line x1="477.52" y1="56.82" x2="477.52" y2="58.03" stroke="#ff7f0e" stroke-width="0.55"/>
<line x1="478.74" y1="50.77" x2="478.74" y2="57.52" stroke="#ff7f0e" stroke-width="0.55"/>
<line x1="479.37" y1="55.10" x2="479.37" y2="57.39" stroke="#ff7f0e" stroke-width="0.55"/>
<line x1="480.49" y1="55.29" x2="480.49" y2="57.19" stroke="#ff7f0e" stroke-width="0.55"/>
<line x1="481.74" y1="54.58" x2="481.74" y2="56.95" stroke="#ff7f0e" stroke-width="0.55"/>
<line x1="482.47" y1="54.21" x2="482.47" y2="56.82" stroke="#ff7f0e" stroke-width="0.55"/>
<line x1="483.52" y1="55.01" x2="483.52" y2="56.63" stroke="#ff7f0e" stroke-width="0.55"/>
<line x1="484.58" y1="52.95" x2="484.58" y2="56.57" stroke="#ff7f0e" stroke-width="0.55"/>
<line x1="485.54" y1="54.73" x2="485.54" y2="56.75" stroke="#ff7f0e" stroke-width="0.55"/>
<line x1="486.74" y1="54.28" x2="486.74" y2="56.97" stroke="#ff7f0e" stroke-width="0.55"/>
<line x1="487.70" y1="53.16" x2="487.70" y2="57.15" stroke="#ff7f0e" stroke-width="0.55"/>
<line x1="488.42" y1="54.12" x2="488.42" y2="57.28" stroke="#ff7f0e" stroke-width="0.55"/>
<line x1="489.14" y1="54.87" x2="489.14" y2="57.41" stroke="#ff7f0e" stroke-width="0.55"/>
<line x1="489.90" y1="55.67" x2="489.90" y2="57.61" stroke="#ff7f0e" stroke-width="0.55"/>
<line x1="491.04" y1="53.33" x2="491.04" y2="58.03" stroke="#ff7f0e" stroke-width="0.55"/>
<line x1="492.20" y1="57.17" x2="492.20" y2="58.46" stroke="#ff7f0e" stroke-width="0.55"/>
<line x1="493.14" y1="57.58" x2="493.14" y2="58.81" stroke="#ff7f0e" stroke-width="0.55"/>
<line x1="494.15" y1="57.13" x2="494.15" y2="59.18" stroke="#ff7f0e" stroke-width="0.55"/>
<line x1="494.77" y1="56.75" x2="494.77" y2="59.41" stroke="#ff7f0e" stroke-width="0.55"/>
<line x1="495.87" y1="57.04" x2="495.87" y2="59.82" stroke="#ff7f0e" stroke-width="0.55"/>
<line x1="497.08" y1="59.07" x2="497.08" y2="60.27" stroke="#ff7f0e" stroke-width="0.55"/>
<line x1="497.79" y1="59.53" x2="497.79" y2="60.53" stroke="#ff7f0e" stroke-width="0.55"/>
<line x1="498.74" y1="58.91" x2="498.74" y2="60.88" stroke="#ff7f0e" stroke-width="0.55"/>
<line x1="499.64" y1="59.90" x2="499.64" y2="61.22" stroke="#ff7f0e" stroke-width="0.55"/>
<line x1="500.80" y1="60.66" x2="500.80" y2="61.69" stroke="#ff7f0e" stroke-width="0.55"/>
<line x1="502.04" y1="59.78" x2="502.04" y2="62.26" stroke="#ff7f0e" stroke-width="0.55"/>
<line x1="503.02" y1="58.75" x2="503.02" y2="62.71" stroke="#ff7f0e" stroke-width="0.55"/>
<line x1="503.79" y1="61.94" x2="503.79" y2="63.07" stroke="#ff7f0e" stroke-width="0.55"/>
<line x1="504.60" y1="62.43" x2="504.60" y2="63.45" stroke="#ff7f0e" stroke-width="0.55"/>
<line x1="505.42" y1="59.64" x2="505.42" y2="63.83" stroke="#ff7f0e" stroke-width="0.55"/>
<line x1="506.39" y1="62.53" x2="506.39" y2="64.20" stroke="#ff7f0e" stroke-width="0.55"/>
<line x1="507.40" y1="63.45" x2="507.40" y2="64.53" stroke="#ff7f0e" stroke-width="0.55"/>
<line x1="508.58" y1="63.62" x2="508.58" y2="64.93" stroke="#ff7f0e" stroke-width="0.55"/>
<line x1="509.36" y1="63.93" x2="509.36" y2="65.19" stroke="#ff7f0e" stroke-width="0.55"/>
<line x1="510.44" y1="57.63" x2="510.44" y2="65.55" stroke="#ff7f0e" stroke-width="0.55"/>
<line x1="511.59" y1="64.89" x2="511.59" y2="65.93" stroke="#ff7f0e" stroke-width="0.55"/>
<line x1="476.50" y1="51.00" x2="476.50" y2="57.00" stroke="#ff7f0e" stroke-width="0.7"/>
<line x1="480.20" y1="47.60" x2="480.20" y2="56.00" stroke="#ff7f0e" stroke-width="0.7"/>
<line x1="484.00" y1="49.60" x2="484.00" y2="55.00" stroke="#ff7f0e" stroke-width="0.7"/>
<line x1="491.20" y1="48.20" x2="491.20" y2="56.00" stroke="#ff7f0e" stroke-width="0.7"/>
<line x1="497.00" y1="34.50" x2="497.00" y2="58.00" stroke="#ff7f0e" stroke-width="0.7"/>
<line x1="507.20" y1="49.60" x2="507.20" y2="62.00" stroke="#ff7f0e" stroke-width="0.7"/>
<line x1="511.20" y1="52.30" x2="511.20" y2="63.50" stroke="#ff7f0e" stroke-width="0.7"/>
<polyline points="387.50,30.10 392.80,30.40 397.80,32.10 402.90,33.80 408.00,35.80 413.00,38.00 419.80,40.50 426.50,43.10 431.60,45.60 436.00,48.30 442.80,51.50 453.60,54.90 463.00,58.90 471.10,62.30 472.70,63.00" fill="none" stroke="#2ca02c" stroke-width="0.85" stroke-opacity="0.62" stroke-linejoin="round"/>
<polygon points="472.70,62.44 473.40,62.58 474.10,63.34 474.80,62.93 475.50,63.49 476.20,63.92 476.90,64.32 477.60,63.97 478.30,64.42 479.00,64.87 479.70,64.61 480.40,64.99 481.10,65.69 481.80,65.41 482.50,65.82 483.20,66.00 483.90,66.34 484.60,66.35 485.30,66.57 486.00,67.49 486.70,67.57 487.40,67.80 488.10,67.70 488.80,67.97 489.50,68.43 490.20,68.46 490.90,68.86 491.60,69.44 492.30,69.29 493.00,69.52 493.70,70.22 494.40,70.21 495.10,70.06 495.80,70.56 496.50,70.89 497.20,70.65 497.90,71.01 498.60,71.42 499.30,71.70 500.00,71.68 500.70,72.05 501.40,71.92 502.10,72.04 502.80,72.52 503.50,72.36 504.20,72.80 504.90,72.57 505.60,72.83 506.30,72.88 507.00,73.30 507.70,73.20 508.40,73.39 509.10,73.56 509.80,73.91 510.50,73.96 511.20,74.22 511.80,74.40 511.80,80.30 511.20,80.02 510.50,79.77 509.80,79.52 509.10,79.77 508.40,79.23 507.70,79.04 507.00,79.05 506.30,78.54 505.60,78.28 504.90,78.04 504.20,78.20 503.50,78.03 502.80,77.50 502.10,77.61 501.40,77.01 500.70,77.09 500.00,76.80 499.30,76.52 498.60,76.12 497.90,76.31 497.20,75.79 496.50,75.51 495.80,75.45 495.10,75.31 494.40,74.82 493.70,74.90 493.00,74.83 492.30,74.27 491.60,74.41 490.90,73.60 490.20,73.56 489.50,73.26 488.80,72.80 488.10,73.17 487.40,72.80 486.70,72.58 486.00,72.04 485.30,72.20 484.60,71.40 483.90,71.30 483.20,70.98 482.50,70.99 481.80,70.77 481.10,70.03 480.40,69.56 479.70,69.14 479.00,68.65 478.30,68.46 477.60,68.15 476.90,68.01 476.20,67.21 475.50,67.05 474.80,66.56 474.10,66.65 473.40,66.15 472.70,66.00" fill="#2ca02c"/>
<line x1="497.00" y1="70.41" x2="497.00" y2="76.48" stroke="#ff7f0e" stroke-width="0.5" stroke-opacity="0.6"/>
<line x1="507.20" y1="72.81" x2="507.20" y2="79.46" stroke="#ff7f0e" stroke-width="0.5" stroke-opacity="0.6"/>
<polyline points="31.00,163.10 32.02,162.97 33.04,162.91 34.07,162.95 35.09,163.36 36.11,163.36 37.13,163.55 38.16,163.70 39.18,163.33 40.20,163.50 41.22,163.70 42.23,163.95 43.25,163.63 44.27,164.01 45.28,164.10 46.30,164.10 47.30,165.15 48.30,165.87 49.30,166.27 50.30,167.20 51.33,168.95 52.37,170.29 53.40,172.20 54.40,174.52 55.40,176.87 56.40,179.30 57.40,181.59 58.40,184.40 59.70,186.53 61.00,188.80 62.35,185.50 63.70,182.40 64.73,185.86 65.77,189.20 66.80,192.80 68.50,194.00 70.10,193.60 71.10,194.60 72.10,195.94 73.10,197.20 74.10,196.94 75.10,196.70 76.15,198.25 77.20,200.20 78.20,201.05 79.20,201.70 80.20,202.59 81.20,203.80 82.23,204.22 83.27,205.04 84.30,205.80 85.30,206.59 86.30,207.26 87.30,208.30 88.30,209.02 89.30,209.75 90.30,210.30 91.45,212.03 92.60,213.70 93.85,215.62 95.10,217.30 96.30,218.56 97.50,220.40 98.70,221.33 99.90,222.32 101.10,223.40 102.32,223.74 103.55,224.54 104.78,224.93 106.00,225.80 107.00,226.21 108.00,226.68 109.00,227.03 110.00,227.36 111.00,227.74 112.00,228.30" fill="none" stroke="#2068a4" stroke-width="0.9" stroke-dasharray="2.2 0.6" stroke-linejoin="round"/>
<polygon points="112.00,227.03 112.50,227.54 113.00,228.31 113.50,228.04 114.00,227.79 114.50,228.40 115.00,227.94 115.50,228.39 116.00,228.69 116.50,229.21 117.00,228.62 117.50,229.00 118.00,229.56 118.50,229.47 119.00,229.42 119.50,229.53 120.00,229.39 120.50,229.50 121.00,229.43 121.50,230.20 122.00,230.36 122.50,229.86 123.00,230.59 123.50,229.65 124.00,229.86 124.50,230.41 125.00,230.27 125.50,230.43 126.00,231.27 126.50,230.38 127.00,230.53 127.50,230.67 128.00,231.32 128.50,230.88 129.00,230.70 129.50,231.45 130.00,231.37 130.50,231.26 131.00,231.64 131.50,231.91 132.00,231.86 132.50,232.02 133.00,232.02 133.50,232.42 134.00,232.66 134.50,231.98 135.00,232.07 135.50,232.79 136.00,232.18 136.50,232.73 137.00,232.78 137.50,232.85 138.00,233.26 138.50,233.16 139.00,232.44 139.50,233.07 140.00,232.99 140.50,233.15 141.00,232.99 141.50,232.97 142.00,233.60 142.50,233.42 143.00,233.13 143.50,233.22 144.00,233.39 144.50,233.29 145.00,233.77 145.50,233.38 146.00,233.38 146.50,233.46 147.00,233.57 147.50,234.37 148.00,233.74 148.50,234.22 149.00,234.68 149.50,234.40 150.00,234.10 150.50,235.05 151.00,235.17 151.50,234.31 152.00,234.67 152.50,235.09 153.00,235.55 153.50,235.18 154.00,235.68 154.50,235.24 155.00,235.91 155.50,235.56 156.00,235.69 156.50,236.31 156.50,245.00 150.00,243.00 140.00,240.00 130.00,236.00 120.00,232.00 112.00,229.50" fill="#1f77b4"/>
<line x1="112.30" y1="226.80" x2="112.30" y2="228.17" stroke="#1f77b4" stroke-width="0.45"/>
<line x1="113.06" y1="227.35" x2="113.06" y2="228.35" stroke="#1f77b4" stroke-width="0.45"/>
<line x1="113.62" y1="227.16" x2="113.62" y2="228.48" stroke="#1f77b4" stroke-width="0.45"/>
<line x1="114.28" y1="226.91" x2="114.28" y2="228.64" stroke="#1f77b4" stroke-width="0.45"/>
<line x1="115.02" y1="228.27" x2="115.02" y2="228.82" stroke="#1f77b4" stroke-width="0.45"/>
<line x1="115.56" y1="227.54" x2="115.56" y2="228.95" stroke="#1f77b4" stroke-width="0.45"/>
<line x1="116.04" y1="228.47" x2="116.04" y2="229.06" stroke="#1f77b4" stroke-width="0.45"/>
<line x1="116.40" y1="227.96" x2="116.40" y2="229.15" stroke="#1f77b4" stroke-width="0.45"/>
<line x1="117.21" y1="227.20" x2="117.21" y2="229.34" stroke="#1f77b4" stroke-width="0.45"/>
<line x1="117.64" y1="228.08" x2="117.64" y2="229.44" stroke="#1f77b4" stroke-width="0.45"/>
<line x1="118.20" y1="228.35" x2="118.20" y2="229.57" stroke="#1f77b4" stroke-width="0.45"/>
<line x1="118.75" y1="227.79" x2="118.75" y2="229.70" stroke="#1f77b4" stroke-width="0.45"/>
<line x1="119.58" y1="229.39" x2="119.58" y2="229.90" stroke="#1f77b4" stroke-width="0.45"/>
<line x1="120.29" y1="229.52" x2="120.29" y2="230.06" stroke="#1f77b4" stroke-width="0.45"/>
<line x1="120.67" y1="229.47" x2="120.67" y2="230.13" stroke="#1f77b4" stroke-width="0.45"/>
<line x1="121.38" y1="228.16" x2="121.38" y2="230.28" stroke="#1f77b4" stroke-width="0.45"/>
<line x1="121.80" y1="229.63" x2="121.80" y2="230.36" stroke="#1f77b4" stroke-width="0.45"/>
<line x1="122.17" y1="229.36" x2="122.17" y2="230.43" stroke="#1f77b4" stroke-width="0.45"/>
<line x1="122.76" y1="229.75" x2="122.76" y2="230.55" stroke="#1f77b4" stroke-width="0.45"/>
<line x1="123.27" y1="228.93" x2="123.27" y2="230.65" stroke="#1f77b4" stroke-width="0.45"/>
<line x1="124.03" y1="230.11" x2="124.03" y2="230.81" stroke="#1f77b4" stroke-width="0.45"/>
<line x1="124.58" y1="229.59" x2="124.58" y2="230.92" stroke="#1f77b4" stroke-width="0.45"/>
<line x1="125.31" y1="228.60" x2="125.31" y2="231.06" stroke="#1f77b4" stroke-width="0.45"/>
<line x1="125.85" y1="229.59" x2="125.85" y2="231.17" stroke="#1f77b4" stroke-width="0.45"/>
<line x1="126.48" y1="229.36" x2="126.48" y2="231.30" stroke="#1f77b4" stroke-width="0.45"/>
<line x1="126.91" y1="230.79" x2="126.91" y2="231.38" stroke="#1f77b4" stroke-width="0.45"/>
<line x1="127.32" y1="228.99" x2="127.32" y2="231.46" stroke="#1f77b4" stroke-width="0.45"/>
<line x1="127.80" y1="230.43" x2="127.80" y2="231.56" stroke="#1f77b4" stroke-width="0.45"/>
<line x1="128.22" y1="230.84" x2="128.22" y2="231.64" stroke="#1f77b4" stroke-width="0.45"/>
<line x1="128.58" y1="230.37" x2="128.58" y2="231.72" stroke="#1f77b4" stroke-width="0.45"/>
<line x1="129.01" y1="230.27" x2="129.01" y2="231.80" stroke="#1f77b4" stroke-width="0.45"/>
<line x1="129.51" y1="231.23" x2="129.51" y2="231.90" stroke="#1f77b4" stroke-width="0.45"/>
<line x1="130.10" y1="231.11" x2="130.10" y2="232.01" stroke="#1f77b4" stroke-width="0.45"/>
<line x1="130.58" y1="231.58" x2="130.58" y2="232.09" stroke="#1f77b4" stroke-width="0.45"/>
<line x1="130.97" y1="229.61" x2="130.97" y2="232.15" stroke="#1f77b4" stroke-width="0.45"/>
<line x1="131.48" y1="231.70" x2="131.48" y2="232.22" stroke="#1f77b4" stroke-width="0.45"/>
<line x1="131.93" y1="231.11" x2="131.93" y2="232.29" stroke="#1f77b4" stroke-width="0.45"/>
<line x1="132.77" y1="231.77" x2="132.77" y2="232.42" stroke="#1f77b4" stroke-width="0.45"/>
<line x1="133.54" y1="231.35" x2="133.54" y2="232.53" stroke="#1f77b4" stroke-width="0.45"/>
<line x1="134.10" y1="230.42" x2="134.10" y2="232.62" stroke="#1f77b4" stroke-width="0.45"/>
<line x1="134.65" y1="232.18" x2="134.65" y2="232.70" stroke="#1f77b4" stroke-width="0.45"/>
<line x1="135.28" y1="231.12" x2="135.28" y2="232.79" stroke="#1f77b4" stroke-width="0.45"/>
<line x1="135.94" y1="232.14" x2="135.94" y2="232.89" stroke="#1f77b4" stroke-width="0.45"/>
<line x1="136.75" y1="230.59" x2="136.75" y2="233.01" stroke="#1f77b4" stroke-width="0.45"/>
<line x1="137.58" y1="232.06" x2="137.58" y2="233.14" stroke="#1f77b4" stroke-width="0.45"/>
<line x1="138.34" y1="231.35" x2="138.34" y2="233.25" stroke="#1f77b4" stroke-width="0.45"/>
<line x1="138.79" y1="232.81" x2="138.79" y2="233.32" stroke="#1f77b4" stroke-width="0.45"/>
<line x1="139.23" y1="232.83" x2="139.23" y2="233.38" stroke="#1f77b4" stroke-width="0.45"/>
<line x1="139.62" y1="232.55" x2="139.62" y2="233.44" stroke="#1f77b4" stroke-width="0.45"/>
<line x1="140.35" y1="232.75" x2="140.35" y2="233.55" stroke="#1f77b4" stroke-width="0.45"/>
<line x1="140.95" y1="233.14" x2="140.95" y2="233.64" stroke="#1f77b4" stroke-width="0.45"/>
<line x1="141.41" y1="230.83" x2="141.41" y2="233.71" stroke="#1f77b4" stroke-width="0.45"/>
<line x1="141.78" y1="232.45" x2="141.78" y2="233.77" stroke="#1f77b4" stroke-width="0.45"/>
<line x1="142.53" y1="231.65" x2="142.53" y2="233.88" stroke="#1f77b4" stroke-width="0.45"/>
<line x1="143.24" y1="232.98" x2="143.24" y2="233.99" stroke="#1f77b4" stroke-width="0.45"/>
<line x1="143.99" y1="231.68" x2="143.99" y2="234.10" stroke="#1f77b4" stroke-width="0.45"/>
<line x1="144.72" y1="231.04" x2="144.72" y2="234.21" stroke="#1f77b4" stroke-width="0.45"/>
<line x1="145.12" y1="231.24" x2="145.12" y2="234.27" stroke="#1f77b4" stroke-width="0.45"/>
<line x1="145.68" y1="232.33" x2="145.68" y2="234.35" stroke="#1f77b4" stroke-width="0.45"/>
<line x1="146.16" y1="231.46" x2="146.16" y2="234.42" stroke="#1f77b4" stroke-width="0.45"/>
<line x1="146.53" y1="232.87" x2="146.53" y2="234.48" stroke="#1f77b4" stroke-width="0.45"/>
<line x1="147.00" y1="233.49" x2="147.00" y2="234.55" stroke="#1f77b4" stroke-width="0.45"/>
<line x1="147.53" y1="232.66" x2="147.53" y2="234.63" stroke="#1f77b4" stroke-width="0.45"/>
<line x1="148.28" y1="233.71" x2="148.28" y2="234.74" stroke="#1f77b4" stroke-width="0.45"/>
<line x1="148.95" y1="233.83" x2="148.95" y2="234.84" stroke="#1f77b4" stroke-width="0.45"/>
<line x1="149.44" y1="231.56" x2="149.44" y2="234.92" stroke="#1f77b4" stroke-width="0.45"/>
<line x1="149.96" y1="234.44" x2="149.96" y2="234.99" stroke="#1f77b4" stroke-width="0.45"/>
<line x1="150.48" y1="232.44" x2="150.48" y2="235.11" stroke="#1f77b4" stroke-width="0.45"/>
<line x1="150.94" y1="232.41" x2="150.94" y2="235.22" stroke="#1f77b4" stroke-width="0.45"/>
<line x1="151.56" y1="232.75" x2="151.56" y2="235.36" stroke="#1f77b4" stroke-width="0.45"/>
<line x1="152.01" y1="234.89" x2="152.01" y2="235.46" stroke="#1f77b4" stroke-width="0.45"/>
<line x1="152.44" y1="234.36" x2="152.44" y2="235.56" stroke="#1f77b4" stroke-width="0.45"/>
<line x1="153.00" y1="235.19" x2="153.00" y2="235.69" stroke="#1f77b4" stroke-width="0.45"/>
<line x1="153.60" y1="234.42" x2="153.60" y2="235.83" stroke="#1f77b4" stroke-width="0.45"/>
<line x1="154.12" y1="233.97" x2="154.12" y2="235.95" stroke="#1f77b4" stroke-width="0.45"/>
<line x1="154.94" y1="235.40" x2="154.94" y2="236.14" stroke="#1f77b4" stroke-width="0.45"/>
<line x1="155.72" y1="235.31" x2="155.72" y2="236.32" stroke="#1f77b4" stroke-width="0.45"/>
<polyline points="31.00,189.10 32.02,188.91 33.04,189.48 34.07,189.19 35.09,189.56 36.11,189.15 37.13,189.31 38.16,189.53 39.18,189.26 40.20,189.50 41.21,189.49 42.23,189.86 43.24,190.14 44.25,189.89 45.26,189.94 46.27,190.16 47.29,190.67 48.30,190.50 49.30,190.10 50.30,190.20 51.30,189.86 52.30,189.83 53.30,189.38 54.30,189.44 55.30,189.41 56.30,189.20 57.30,188.80 58.45,189.10 59.60,189.25 60.75,189.52 61.90,189.70 62.95,190.37 64.00,191.50 65.00,193.87 66.00,195.95 67.00,198.00 68.03,199.91 69.07,201.97 70.10,203.80 71.45,205.05 72.80,206.40 73.85,205.98 74.90,205.70 76.25,206.54 77.60,207.70 78.95,208.71 80.30,209.60 81.65,210.59 83.00,211.50 84.00,212.01 85.00,212.22 86.00,213.08 87.00,213.50 88.08,213.83 89.16,214.28 90.24,214.64 91.32,215.20 92.40,215.30 93.48,215.35 94.56,215.80 95.64,216.38 96.72,216.48 97.80,216.60 98.82,216.75 99.83,217.28 100.85,217.69 101.87,217.61 102.88,218.15 103.90,218.20 104.93,218.33 105.95,219.19 106.97,219.24 108.00,219.60 109.00,219.94 110.00,220.80 111.00,221.19 112.00,221.60" fill="none" stroke="#ff7f0e" stroke-width="0.95" stroke-dasharray="3 0.5" stroke-linejoin="round"/>
<polygon points="112.00,222.21 112.50,222.21 113.00,222.32 113.50,222.08 114.00,222.91 114.50,221.76 115.00,223.04 115.50,222.97 116.00,222.48 116.50,223.41 117.00,223.07 117.50,223.34 118.00,223.96 118.50,223.17 119.00,223.66 119.50,224.54 120.00,224.11 120.50,225.15 121.00,225.84 121.50,225.79 122.00,225.81 122.50,226.96 123.00,227.41 123.50,227.66 124.00,227.71 124.50,228.58 125.00,228.79 125.50,228.21 126.00,228.77 126.50,228.65 127.00,228.81 127.50,229.49 128.00,230.47 128.50,230.68 129.00,229.93 129.50,230.28 130.00,230.82 130.50,231.71 131.00,231.64 131.50,232.29 132.00,231.38 132.50,232.92 133.00,232.08 133.50,232.92 134.00,233.52 134.50,233.56 135.00,233.07 135.50,233.98 136.00,233.85 136.50,233.48 137.00,234.14 137.50,234.31 138.00,234.96 138.50,234.68 139.00,235.34 139.50,235.68 140.00,235.17 140.50,235.30 141.00,236.30 141.50,236.19 142.00,235.93 142.50,236.11 143.00,237.48 143.50,237.22 144.00,237.08 144.50,237.06 145.00,238.38 145.50,238.17 146.00,238.40 146.50,238.03 147.00,238.13 147.50,238.43 148.00,238.23 148.50,239.07 149.00,238.95 149.50,239.67 150.00,239.26 150.50,239.49 151.00,239.72 151.50,240.50 152.00,239.83 152.50,240.50 153.00,240.00 153.50,240.65 154.00,240.40 154.50,241.39 155.00,240.74 155.50,241.70 155.80,241.30 155.80,245.50 145.50,243.00 135.40,238.80 125.30,232.90 118.50,227.00 112.00,223.50" fill="#ff7f0e"/>
<line x1="112.30" y1="220.93" x2="112.30" y2="222.19" stroke="#ff7f0e" stroke-width="0.45"/>
<line x1="112.88" y1="220.34" x2="112.88" y2="222.37" stroke="#ff7f0e" stroke-width="0.45"/>
<line x1="113.42" y1="221.01" x2="113.42" y2="222.54" stroke="#ff7f0e" stroke-width="0.45"/>
<line x1="114.07" y1="221.84" x2="114.07" y2="222.74" stroke="#ff7f0e" stroke-width="0.45"/>
<line x1="114.46" y1="222.00" x2="114.46" y2="222.86" stroke="#ff7f0e" stroke-width="0.45"/>
<line x1="114.96" y1="222.09" x2="114.96" y2="223.01" stroke="#ff7f0e" stroke-width="0.45"/>
<line x1="115.78" y1="222.57" x2="115.78" y2="223.26" stroke="#ff7f0e" stroke-width="0.45"/>
<line x1="116.47" y1="221.88" x2="116.47" y2="223.48" stroke="#ff7f0e" stroke-width="0.45"/>
<line x1="116.95" y1="222.70" x2="116.95" y2="223.62" stroke="#ff7f0e" stroke-width="0.45"/>
<line x1="117.37" y1="221.18" x2="117.37" y2="223.75" stroke="#ff7f0e" stroke-width="0.45"/>
<line x1="117.85" y1="222.93" x2="117.85" y2="223.90" stroke="#ff7f0e" stroke-width="0.45"/>
<line x1="118.38" y1="221.70" x2="118.38" y2="224.06" stroke="#ff7f0e" stroke-width="0.45"/>
<line x1="119.14" y1="222.96" x2="119.14" y2="224.57" stroke="#ff7f0e" stroke-width="0.45"/>
<line x1="119.77" y1="224.50" x2="119.77" y2="225.03" stroke="#ff7f0e" stroke-width="0.45"/>
<line x1="120.56" y1="225.08" x2="120.56" y2="225.61" stroke="#ff7f0e" stroke-width="0.45"/>
<line x1="121.09" y1="224.95" x2="121.09" y2="226.01" stroke="#ff7f0e" stroke-width="0.45"/>
<line x1="121.80" y1="224.18" x2="121.80" y2="226.53" stroke="#ff7f0e" stroke-width="0.45"/>
<line x1="122.32" y1="222.99" x2="122.32" y2="226.91" stroke="#ff7f0e" stroke-width="0.45"/>
<line x1="123.14" y1="227.01" x2="123.14" y2="227.51" stroke="#ff7f0e" stroke-width="0.45"/>
<line x1="123.80" y1="226.49" x2="123.80" y2="228.00" stroke="#ff7f0e" stroke-width="0.45"/>
<line x1="124.34" y1="226.87" x2="124.34" y2="228.39" stroke="#ff7f0e" stroke-width="0.45"/>
<line x1="124.85" y1="226.09" x2="124.85" y2="228.77" stroke="#ff7f0e" stroke-width="0.45"/>
<line x1="125.50" y1="224.04" x2="125.50" y2="229.20" stroke="#ff7f0e" stroke-width="0.45"/>
<line x1="126.33" y1="224.24" x2="126.33" y2="229.62" stroke="#ff7f0e" stroke-width="0.45"/>
<line x1="126.88" y1="225.99" x2="126.88" y2="229.90" stroke="#ff7f0e" stroke-width="0.45"/>
<line x1="127.55" y1="227.30" x2="127.55" y2="230.24" stroke="#ff7f0e" stroke-width="0.45"/>
<line x1="128.39" y1="230.14" x2="128.39" y2="230.66" stroke="#ff7f0e" stroke-width="0.45"/>
<line x1="128.97" y1="229.65" x2="128.97" y2="230.95" stroke="#ff7f0e" stroke-width="0.45"/>
<line x1="129.65" y1="230.56" x2="129.65" y2="231.29" stroke="#ff7f0e" stroke-width="0.45"/>
<line x1="130.48" y1="231.00" x2="130.48" y2="231.72" stroke="#ff7f0e" stroke-width="0.45"/>
<line x1="131.02" y1="231.39" x2="131.02" y2="231.99" stroke="#ff7f0e" stroke-width="0.45"/>
<line x1="131.57" y1="229.02" x2="131.57" y2="232.26" stroke="#ff7f0e" stroke-width="0.45"/>
<line x1="131.97" y1="231.83" x2="131.97" y2="232.47" stroke="#ff7f0e" stroke-width="0.45"/>
<line x1="132.64" y1="230.37" x2="132.64" y2="232.81" stroke="#ff7f0e" stroke-width="0.45"/>
<line x1="133.35" y1="232.35" x2="133.35" y2="233.17" stroke="#ff7f0e" stroke-width="0.45"/>
<line x1="134.10" y1="230.38" x2="134.10" y2="233.55" stroke="#ff7f0e" stroke-width="0.45"/>
<line x1="134.84" y1="233.34" x2="134.84" y2="233.92" stroke="#ff7f0e" stroke-width="0.45"/>
<line x1="135.42" y1="233.71" x2="135.42" y2="234.21" stroke="#ff7f0e" stroke-width="0.45"/>
<line x1="136.19" y1="229.63" x2="136.19" y2="234.53" stroke="#ff7f0e" stroke-width="0.45"/>
<line x1="136.98" y1="234.36" x2="136.98" y2="234.86" stroke="#ff7f0e" stroke-width="0.45"/>
<line x1="137.51" y1="233.19" x2="137.51" y2="235.08" stroke="#ff7f0e" stroke-width="0.45"/>
<line x1="138.13" y1="234.78" x2="138.13" y2="235.33" stroke="#ff7f0e" stroke-width="0.45"/>
<line x1="138.87" y1="234.71" x2="138.87" y2="235.64" stroke="#ff7f0e" stroke-width="0.45"/>
<line x1="139.47" y1="235.32" x2="139.47" y2="235.89" stroke="#ff7f0e" stroke-width="0.45"/>
<line x1="140.10" y1="235.58" x2="140.10" y2="236.16" stroke="#ff7f0e" stroke-width="0.45"/>
<line x1="140.51" y1="234.61" x2="140.51" y2="236.32" stroke="#ff7f0e" stroke-width="0.45"/>
<line x1="141.01" y1="233.23" x2="141.01" y2="236.53" stroke="#ff7f0e" stroke-width="0.45"/>
<line x1="141.49" y1="235.44" x2="141.49" y2="236.73" stroke="#ff7f0e" stroke-width="0.45"/>
<line x1="141.87" y1="236.17" x2="141.87" y2="236.89" stroke="#ff7f0e" stroke-width="0.45"/>
<line x1="142.45" y1="235.18" x2="142.45" y2="237.13" stroke="#ff7f0e" stroke-width="0.45"/>
<line x1="143.03" y1="233.50" x2="143.03" y2="237.37" stroke="#ff7f0e" stroke-width="0.45"/>
<line x1="143.44" y1="233.67" x2="143.44" y2="237.54" stroke="#ff7f0e" stroke-width="0.45"/>
<line x1="143.87" y1="232.82" x2="143.87" y2="237.72" stroke="#ff7f0e" stroke-width="0.45"/>
<line x1="144.49" y1="236.70" x2="144.49" y2="237.98" stroke="#ff7f0e" stroke-width="0.45"/>
<line x1="145.14" y1="234.25" x2="145.14" y2="238.25" stroke="#ff7f0e" stroke-width="0.45"/>
<line x1="145.96" y1="237.25" x2="145.96" y2="238.55" stroke="#ff7f0e" stroke-width="0.45"/>
<line x1="146.33" y1="238.06" x2="146.33" y2="238.67" stroke="#ff7f0e" stroke-width="0.45"/>
<line x1="147.08" y1="235.95" x2="147.08" y2="238.92" stroke="#ff7f0e" stroke-width="0.45"/>
<line x1="147.78" y1="238.54" x2="147.78" y2="239.15" stroke="#ff7f0e" stroke-width="0.45"/>
<line x1="148.40" y1="238.85" x2="148.40" y2="239.36" stroke="#ff7f0e" stroke-width="0.45"/>
<line x1="148.81" y1="238.59" x2="148.81" y2="239.49" stroke="#ff7f0e" stroke-width="0.45"/>
<line x1="149.63" y1="237.44" x2="149.63" y2="239.76" stroke="#ff7f0e" stroke-width="0.45"/>
<line x1="150.40" y1="239.51" x2="150.40" y2="240.02" stroke="#ff7f0e" stroke-width="0.45"/>
<line x1="150.96" y1="239.68" x2="150.96" y2="240.20" stroke="#ff7f0e" stroke-width="0.45"/>
<line x1="151.45" y1="239.81" x2="151.45" y2="240.36" stroke="#ff7f0e" stroke-width="0.45"/>
<line x1="152.25" y1="239.66" x2="152.25" y2="240.63" stroke="#ff7f0e" stroke-width="0.45"/>
<line x1="152.84" y1="238.47" x2="152.84" y2="240.82" stroke="#ff7f0e" stroke-width="0.45"/>
<line x1="153.63" y1="236.70" x2="153.63" y2="241.08" stroke="#ff7f0e" stroke-width="0.45"/>
<line x1="154.26" y1="239.71" x2="154.26" y2="241.29" stroke="#ff7f0e" stroke-width="0.45"/>
<line x1="155.05" y1="240.38" x2="155.05" y2="241.55" stroke="#ff7f0e" stroke-width="0.45"/>
<line x1="155.56" y1="238.87" x2="155.56" y2="241.72" stroke="#ff7f0e" stroke-width="0.45"/>
<line x1="110.10" y1="214.30" x2="110.10" y2="220.00" stroke="#ff7f0e" stroke-width="0.6"/>
<line x1="114.30" y1="217.70" x2="114.30" y2="222.00" stroke="#ff7f0e" stroke-width="0.6"/>
<line x1="116.80" y1="218.50" x2="116.80" y2="223.00" stroke="#ff7f0e" stroke-width="0.6"/>
<line x1="121.90" y1="220.20" x2="121.90" y2="225.00" stroke="#ff7f0e" stroke-width="0.6"/>
<line x1="125.30" y1="216.00" x2="125.30" y2="228.00" stroke="#ff7f0e" stroke-width="0.6"/>
<line x1="127.00" y1="217.70" x2="127.00" y2="229.00" stroke="#ff7f0e" stroke-width="0.6"/>
<line x1="130.30" y1="225.30" x2="130.30" y2="231.00" stroke="#ff7f0e" stroke-width="0.6"/>
<line x1="135.40" y1="230.30" x2="135.40" y2="234.00" stroke="#ff7f0e" stroke-width="0.6"/>
<line x1="141.30" y1="229.50" x2="141.30" y2="236.00" stroke="#ff7f0e" stroke-width="0.6"/>
<line x1="144.70" y1="232.00" x2="144.70" y2="238.00" stroke="#ff7f0e" stroke-width="0.6"/>
<line x1="148.90" y1="233.70" x2="148.90" y2="239.00" stroke="#ff7f0e" stroke-width="0.6"/>
<line x1="154.80" y1="232.00" x2="154.80" y2="241.00" stroke="#ff7f0e" stroke-width="0.6"/>
<polyline points="31.00,182.00 48.30,182.00 50.00,183.30 55.50,185.10 60.00,188.80 64.60,191.50 68.00,191.60 71.10,190.60 74.10,193.60 78.20,197.20 82.20,201.20 85.80,204.80 89.30,208.80 91.50,212.50 92.20,218.00 93.20,223.40 96.30,226.50 102.40,228.30 106.00,229.50 113.40,232.40 115.00,233.00" fill="none" stroke="#2ca02c" stroke-width="0.85" stroke-opacity="0.62" stroke-linejoin="round"/>
<polyline points="93.20,223.40 96.30,226.50 102.40,228.30 106.00,229.50 113.40,232.40 115.00,233.00" fill="none" stroke="#2ca02c" stroke-width="1.0" stroke-opacity="0.9" stroke-linejoin="round"/>
<polygon points="113.40,232.27 114.00,232.56 114.60,232.84 115.20,232.96 115.80,233.26 116.40,233.52 117.00,233.35 117.60,234.37 118.20,233.83 118.80,234.53 119.40,234.71 120.00,234.73 120.60,234.72 121.20,234.76 121.80,235.20 122.40,235.31 123.00,235.65 123.60,235.56 124.20,236.24 124.80,236.15 125.40,235.84 126.00,236.44 126.60,237.19 127.20,236.43 127.80,237.21 128.40,237.77 129.00,237.37 129.60,237.80 130.20,237.77 130.80,237.90 131.40,238.40 132.00,238.58 132.60,238.50 133.20,238.88 133.80,239.09 134.40,239.53 135.00,239.02 135.60,239.26 136.20,239.62 136.80,239.84 137.40,240.57 138.00,240.40 138.60,241.04 139.20,240.78 139.80,240.87 140.40,241.46 141.00,241.07 141.60,242.17 142.20,242.22 142.80,241.92 143.40,242.11 144.00,242.81 144.60,242.99 145.20,243.04 145.80,242.63 146.40,243.48 147.00,242.91 147.60,243.63 148.20,243.71 148.80,244.23 149.40,244.09 150.00,243.61 150.60,244.67 151.20,244.64 151.80,244.61 152.40,244.18 153.00,245.06 153.60,244.88 154.20,245.29 154.80,245.74 155.40,245.82 155.80,245.50 155.80,250.50 155.40,250.26 154.80,250.42 154.20,250.20 153.60,249.49 153.00,249.26 152.40,248.78 151.80,248.77 151.20,248.14 150.60,248.30 150.00,247.25 149.40,247.15 148.80,247.18 148.20,247.04 147.60,246.28 147.00,245.96 146.40,246.13 145.80,245.47 145.20,245.86 144.60,245.11 144.00,244.96 143.40,244.48 142.80,244.72 142.20,244.20 141.60,243.77 141.00,243.65 140.40,243.47 139.80,242.98 139.20,242.54 138.60,242.48 138.00,242.08 137.40,242.22 136.80,241.55 136.20,241.88 135.60,240.99 135.00,241.45 134.40,240.86 133.80,240.97 133.20,240.57 132.60,240.81 132.00,240.36 131.40,239.87 130.80,239.73 130.20,239.13 129.60,239.38 129.00,239.58 128.40,238.64 127.80,239.16 127.20,238.66 126.60,238.34 126.00,237.94 125.40,238.45 124.80,237.92 124.20,238.15 123.60,237.34 123.00,236.98 122.40,236.81 121.80,237.08 121.20,237.03 120.60,237.03 120.00,236.15 119.40,235.94 118.80,236.43 118.20,235.78 117.60,235.33 117.00,235.40 116.40,235.17 115.80,234.86 115.20,234.98 114.60,234.43 114.00,234.53 113.40,233.57" fill="#2ca02c"/>
<polyline points="207.50,163.30 208.53,163.37 209.57,163.29 210.60,163.69 211.63,163.37 212.67,163.57 213.70,163.98 214.73,163.57 215.77,164.04 216.80,164.00 217.81,164.27 218.83,164.49 219.84,164.59 220.86,164.71 221.87,165.41 222.89,165.53 223.90,165.60 225.07,166.68 226.25,167.16 227.43,168.47 228.60,169.20 229.80,171.00 231.00,172.95 232.20,175.10 233.40,178.07 234.60,181.00 235.75,184.02 236.90,186.90 238.10,189.30 240.00,183.20 241.70,191.70 243.60,198.50 244.90,195.17 246.20,192.30 247.30,195.53 248.40,198.48 249.50,201.50 250.50,201.24 251.50,200.50 253.00,202.50 254.40,201.90 255.80,200.80 257.50,205.00 259.40,207.00 260.70,208.36 262.00,209.50 263.05,211.12 264.10,212.90 265.55,214.12 267.00,214.80 268.00,215.90 269.00,216.61 270.00,217.70 271.00,218.33 272.00,218.68 273.00,218.82 274.00,219.23 275.00,219.80 276.00,219.71 277.00,220.22 278.00,220.25 279.00,220.48 280.00,220.80" fill="none" stroke="#2068a4" stroke-width="0.9" stroke-dasharray="2.2 0.6" stroke-linejoin="round"/>
<polygon points="276.00,220.50 276.50,220.44 277.00,220.95 277.50,220.78 278.00,220.88 278.50,220.95 279.00,221.31 279.50,221.83 280.00,221.06 280.50,221.98 281.00,222.06 281.50,221.85 282.00,221.85 282.50,222.16 283.00,222.01 283.50,222.24 284.00,222.64 284.50,222.55 285.00,222.01 285.50,221.86 286.00,223.00 286.50,222.41 287.00,223.00 287.50,222.43 288.00,222.78 288.50,222.77 289.00,223.30 289.50,223.64 290.00,223.21 290.50,223.33 291.00,223.13 291.50,223.04 292.00,223.96 292.50,223.01 293.00,224.06 293.50,223.77 294.00,223.13 294.50,224.18 295.00,223.27 295.50,223.88 296.00,223.40 296.50,224.50 297.00,223.74 297.50,224.47 298.00,223.55 298.50,224.33 299.00,223.67 299.50,223.68 300.00,224.39 300.50,224.95 301.00,224.67 301.50,224.95 302.00,224.94 302.50,224.70 303.00,224.24 303.50,224.86 304.00,224.52 304.50,225.01 305.00,224.88 305.50,225.12 306.00,224.84 306.50,225.52 307.00,225.25 307.50,225.41 308.00,224.99 308.50,225.56 309.00,225.72 309.50,226.29 310.00,225.87 310.50,225.44 311.00,225.71 311.50,225.83 312.00,226.34 312.50,226.70 313.00,226.82 313.50,226.86 314.00,226.91 314.50,226.91 315.00,227.07 315.50,226.05 316.00,226.69 316.50,226.88 317.00,227.07 317.50,227.06 318.00,227.14 318.50,227.59 319.00,226.65 319.50,227.25 320.00,227.85 320.50,226.80 321.00,226.96 321.50,227.94 322.00,228.11 322.50,227.05 323.00,227.12 323.50,228.15 324.00,228.04 324.50,227.90 325.00,228.04 325.50,228.32 326.00,228.44 326.50,227.54 327.00,227.68 327.50,228.62 328.00,228.90 328.50,228.79 329.00,228.35 329.50,228.33 330.00,228.40 330.50,228.07 331.00,229.04 331.50,228.50 332.00,228.95 332.50,228.94 333.00,228.78 333.20,229.00 333.20,240.70 320.00,234.40 310.00,230.10 300.00,227.00 290.00,225.50 285.00,224.50 276.00,222.00" fill="#1f77b4"/>
<line x1="276.30" y1="220.01" x2="276.30" y2="221.35" stroke="#1f77b4" stroke-width="0.5"/>
<line x1="276.70" y1="220.67" x2="276.70" y2="221.42" stroke="#1f77b4" stroke-width="0.5"/>
<line x1="277.25" y1="220.82" x2="277.25" y2="221.51" stroke="#1f77b4" stroke-width="0.5"/>
<line x1="277.56" y1="220.76" x2="277.56" y2="221.56" stroke="#1f77b4" stroke-width="0.5"/>
<line x1="277.97" y1="219.91" x2="277.97" y2="221.63" stroke="#1f77b4" stroke-width="0.5"/>
<line x1="278.33" y1="220.89" x2="278.33" y2="221.69" stroke="#1f77b4" stroke-width="0.5"/>
<line x1="278.80" y1="220.92" x2="278.80" y2="221.77" stroke="#1f77b4" stroke-width="0.5"/>
<line x1="279.23" y1="220.98" x2="279.23" y2="221.84" stroke="#1f77b4" stroke-width="0.5"/>
<line x1="279.78" y1="221.18" x2="279.78" y2="221.93" stroke="#1f77b4" stroke-width="0.5"/>
<line x1="280.11" y1="221.01" x2="280.11" y2="221.98" stroke="#1f77b4" stroke-width="0.5"/>
<line x1="280.47" y1="220.15" x2="280.47" y2="222.05" stroke="#1f77b4" stroke-width="0.5"/>
<line x1="280.95" y1="220.02" x2="280.95" y2="222.12" stroke="#1f77b4" stroke-width="0.5"/>
<line x1="281.38" y1="221.59" x2="281.38" y2="222.20" stroke="#1f77b4" stroke-width="0.5"/>
<line x1="281.89" y1="221.36" x2="281.89" y2="222.28" stroke="#1f77b4" stroke-width="0.5"/>
<line x1="282.22" y1="221.02" x2="282.22" y2="222.34" stroke="#1f77b4" stroke-width="0.5"/>
<line x1="282.80" y1="221.19" x2="282.80" y2="222.43" stroke="#1f77b4" stroke-width="0.5"/>
<line x1="283.17" y1="219.76" x2="283.17" y2="222.50" stroke="#1f77b4" stroke-width="0.5"/>
<line x1="283.76" y1="221.26" x2="283.76" y2="222.59" stroke="#1f77b4" stroke-width="0.5"/>
<line x1="284.06" y1="220.15" x2="284.06" y2="222.64" stroke="#1f77b4" stroke-width="0.5"/>
<line x1="284.57" y1="221.49" x2="284.57" y2="222.73" stroke="#1f77b4" stroke-width="0.5"/>
<line x1="285.09" y1="221.43" x2="285.09" y2="222.82" stroke="#1f77b4" stroke-width="0.5"/>
<line x1="285.44" y1="220.81" x2="285.44" y2="222.88" stroke="#1f77b4" stroke-width="0.5"/>
<line x1="285.94" y1="221.20" x2="285.94" y2="222.97" stroke="#1f77b4" stroke-width="0.5"/>
<line x1="286.46" y1="222.54" x2="286.46" y2="223.06" stroke="#1f77b4" stroke-width="0.5"/>
<line x1="286.88" y1="221.58" x2="286.88" y2="223.14" stroke="#1f77b4" stroke-width="0.5"/>
<line x1="287.16" y1="219.58" x2="287.16" y2="223.19" stroke="#1f77b4" stroke-width="0.5"/>
<line x1="287.46" y1="222.21" x2="287.46" y2="223.24" stroke="#1f77b4" stroke-width="0.5"/>
<line x1="288.01" y1="219.29" x2="288.01" y2="223.34" stroke="#1f77b4" stroke-width="0.5"/>
<line x1="288.57" y1="221.87" x2="288.57" y2="223.44" stroke="#1f77b4" stroke-width="0.5"/>
<line x1="289.14" y1="222.65" x2="289.14" y2="223.54" stroke="#1f77b4" stroke-width="0.5"/>
<line x1="289.63" y1="219.19" x2="289.63" y2="223.63" stroke="#1f77b4" stroke-width="0.5"/>
<line x1="289.94" y1="222.80" x2="289.94" y2="223.69" stroke="#1f77b4" stroke-width="0.5"/>
<line x1="290.42" y1="219.43" x2="290.42" y2="223.75" stroke="#1f77b4" stroke-width="0.5"/>
<line x1="290.92" y1="219.02" x2="290.92" y2="223.80" stroke="#1f77b4" stroke-width="0.5"/>
<line x1="291.32" y1="221.92" x2="291.32" y2="223.85" stroke="#1f77b4" stroke-width="0.5"/>
<line x1="291.62" y1="222.38" x2="291.62" y2="223.88" stroke="#1f77b4" stroke-width="0.5"/>
<line x1="292.18" y1="223.23" x2="292.18" y2="223.94" stroke="#1f77b4" stroke-width="0.5"/>
<line x1="292.50" y1="222.09" x2="292.50" y2="223.97" stroke="#1f77b4" stroke-width="0.5"/>
<line x1="292.77" y1="222.29" x2="292.77" y2="224.00" stroke="#1f77b4" stroke-width="0.5"/>
<line x1="293.08" y1="223.13" x2="293.08" y2="224.04" stroke="#1f77b4" stroke-width="0.5"/>
<line x1="293.51" y1="221.12" x2="293.51" y2="224.09" stroke="#1f77b4" stroke-width="0.5"/>
<line x1="293.95" y1="219.83" x2="293.95" y2="224.13" stroke="#1f77b4" stroke-width="0.5"/>
<line x1="294.38" y1="218.65" x2="294.38" y2="224.18" stroke="#1f77b4" stroke-width="0.5"/>
<line x1="294.66" y1="222.81" x2="294.66" y2="224.21" stroke="#1f77b4" stroke-width="0.5"/>
<line x1="294.94" y1="222.40" x2="294.94" y2="224.24" stroke="#1f77b4" stroke-width="0.5"/>
<line x1="295.45" y1="218.68" x2="295.45" y2="224.30" stroke="#1f77b4" stroke-width="0.5"/>
<line x1="295.87" y1="223.21" x2="295.87" y2="224.35" stroke="#1f77b4" stroke-width="0.5"/>
<line x1="296.23" y1="220.93" x2="296.23" y2="224.39" stroke="#1f77b4" stroke-width="0.5"/>
<line x1="296.58" y1="219.46" x2="296.58" y2="224.42" stroke="#1f77b4" stroke-width="0.5"/>
<line x1="297.16" y1="221.65" x2="297.16" y2="224.49" stroke="#1f77b4" stroke-width="0.5"/>
<line x1="297.61" y1="219.18" x2="297.61" y2="224.54" stroke="#1f77b4" stroke-width="0.5"/>
<line x1="298.02" y1="223.27" x2="298.02" y2="224.58" stroke="#1f77b4" stroke-width="0.5"/>
<line x1="298.59" y1="218.38" x2="298.59" y2="224.65" stroke="#1f77b4" stroke-width="0.5"/>
<line x1="298.85" y1="219.89" x2="298.85" y2="224.67" stroke="#1f77b4" stroke-width="0.5"/>
<line x1="299.24" y1="224.05" x2="299.24" y2="224.72" stroke="#1f77b4" stroke-width="0.5"/>
<line x1="299.55" y1="223.53" x2="299.55" y2="224.75" stroke="#1f77b4" stroke-width="0.5"/>
<line x1="300.04" y1="223.39" x2="300.04" y2="224.81" stroke="#1f77b4" stroke-width="0.5"/>
<line x1="300.30" y1="223.39" x2="300.30" y2="224.85" stroke="#1f77b4" stroke-width="0.5"/>
<line x1="300.82" y1="221.85" x2="300.82" y2="224.92" stroke="#1f77b4" stroke-width="0.5"/>
<line x1="301.30" y1="222.12" x2="301.30" y2="224.99" stroke="#1f77b4" stroke-width="0.5"/>
<line x1="301.61" y1="224.50" x2="301.61" y2="225.04" stroke="#1f77b4" stroke-width="0.5"/>
<line x1="301.96" y1="224.46" x2="301.96" y2="225.09" stroke="#1f77b4" stroke-width="0.5"/>
<line x1="302.30" y1="221.29" x2="302.30" y2="225.15" stroke="#1f77b4" stroke-width="0.5"/>
<line x1="302.68" y1="222.27" x2="302.68" y2="225.20" stroke="#1f77b4" stroke-width="0.5"/>
<line x1="303.14" y1="223.26" x2="303.14" y2="225.27" stroke="#1f77b4" stroke-width="0.5"/>
<line x1="303.51" y1="219.65" x2="303.51" y2="225.33" stroke="#1f77b4" stroke-width="0.5"/>
<line x1="303.96" y1="222.79" x2="303.96" y2="225.39" stroke="#1f77b4" stroke-width="0.5"/>
<line x1="304.39" y1="222.58" x2="304.39" y2="225.46" stroke="#1f77b4" stroke-width="0.5"/>
<line x1="304.76" y1="219.59" x2="304.76" y2="225.51" stroke="#1f77b4" stroke-width="0.5"/>
<line x1="305.09" y1="219.47" x2="305.09" y2="225.56" stroke="#1f77b4" stroke-width="0.5"/>
<line x1="305.63" y1="219.89" x2="305.63" y2="225.64" stroke="#1f77b4" stroke-width="0.5"/>
<line x1="305.93" y1="222.46" x2="305.93" y2="225.69" stroke="#1f77b4" stroke-width="0.5"/>
<line x1="306.51" y1="223.89" x2="306.51" y2="225.78" stroke="#1f77b4" stroke-width="0.5"/>
<line x1="306.82" y1="221.11" x2="306.82" y2="225.82" stroke="#1f77b4" stroke-width="0.5"/>
<line x1="307.16" y1="222.10" x2="307.16" y2="225.87" stroke="#1f77b4" stroke-width="0.5"/>
<line x1="307.46" y1="219.55" x2="307.46" y2="225.92" stroke="#1f77b4" stroke-width="0.5"/>
<line x1="307.81" y1="225.09" x2="307.81" y2="225.97" stroke="#1f77b4" stroke-width="0.5"/>
<line x1="308.29" y1="223.76" x2="308.29" y2="226.04" stroke="#1f77b4" stroke-width="0.5"/>
<line x1="308.73" y1="222.85" x2="308.73" y2="226.11" stroke="#1f77b4" stroke-width="0.5"/>
<line x1="309.29" y1="222.80" x2="309.29" y2="226.19" stroke="#1f77b4" stroke-width="0.5"/>
<line x1="309.67" y1="225.75" x2="309.67" y2="226.25" stroke="#1f77b4" stroke-width="0.5"/>
<line x1="310.09" y1="224.47" x2="310.09" y2="226.31" stroke="#1f77b4" stroke-width="0.5"/>
<line x1="310.54" y1="222.11" x2="310.54" y2="226.38" stroke="#1f77b4" stroke-width="0.5"/>
<line x1="310.94" y1="225.58" x2="310.94" y2="226.44" stroke="#1f77b4" stroke-width="0.5"/>
<line x1="311.36" y1="223.25" x2="311.36" y2="226.50" stroke="#1f77b4" stroke-width="0.5"/>
<line x1="311.83" y1="219.66" x2="311.83" y2="226.57" stroke="#1f77b4" stroke-width="0.5"/>
<line x1="312.18" y1="223.61" x2="312.18" y2="226.63" stroke="#1f77b4" stroke-width="0.5"/>
<line x1="312.46" y1="221.04" x2="312.46" y2="226.67" stroke="#1f77b4" stroke-width="0.5"/>
<line x1="312.79" y1="220.84" x2="312.79" y2="226.72" stroke="#1f77b4" stroke-width="0.5"/>
<line x1="313.31" y1="224.97" x2="313.31" y2="226.80" stroke="#1f77b4" stroke-width="0.5"/>
<line x1="313.86" y1="223.28" x2="313.86" y2="226.88" stroke="#1f77b4" stroke-width="0.5"/>
<line x1="314.26" y1="222.89" x2="314.26" y2="226.94" stroke="#1f77b4" stroke-width="0.5"/>
<line x1="314.83" y1="223.39" x2="314.83" y2="227.02" stroke="#1f77b4" stroke-width="0.5"/>
<line x1="315.24" y1="224.88" x2="315.24" y2="227.09" stroke="#1f77b4" stroke-width="0.5"/>
<line x1="315.78" y1="223.28" x2="315.78" y2="227.17" stroke="#1f77b4" stroke-width="0.5"/>
<line x1="316.14" y1="225.61" x2="316.14" y2="227.22" stroke="#1f77b4" stroke-width="0.5"/>
<line x1="316.47" y1="220.36" x2="316.47" y2="227.27" stroke="#1f77b4" stroke-width="0.5"/>
<line x1="316.99" y1="218.91" x2="316.99" y2="227.35" stroke="#1f77b4" stroke-width="0.5"/>
<line x1="317.55" y1="221.63" x2="317.55" y2="227.43" stroke="#1f77b4" stroke-width="0.5"/>
<line x1="318.07" y1="221.34" x2="318.07" y2="227.51" stroke="#1f77b4" stroke-width="0.5"/>
<line x1="318.59" y1="220.41" x2="318.59" y2="227.59" stroke="#1f77b4" stroke-width="0.5"/>
<line x1="318.90" y1="220.24" x2="318.90" y2="227.64" stroke="#1f77b4" stroke-width="0.5"/>
<line x1="319.26" y1="225.54" x2="319.26" y2="227.69" stroke="#1f77b4" stroke-width="0.5"/>
<line x1="319.82" y1="227.17" x2="319.82" y2="227.77" stroke="#1f77b4" stroke-width="0.5"/>
<line x1="320.24" y1="224.76" x2="320.24" y2="227.83" stroke="#1f77b4" stroke-width="0.5"/>
<line x1="320.76" y1="222.25" x2="320.76" y2="227.90" stroke="#1f77b4" stroke-width="0.5"/>
<line x1="321.32" y1="219.04" x2="321.32" y2="227.97" stroke="#1f77b4" stroke-width="0.5"/>
<line x1="321.79" y1="227.19" x2="321.79" y2="228.03" stroke="#1f77b4" stroke-width="0.5"/>
<line x1="322.26" y1="226.96" x2="322.26" y2="228.09" stroke="#1f77b4" stroke-width="0.5"/>
<line x1="322.85" y1="220.20" x2="322.85" y2="228.17" stroke="#1f77b4" stroke-width="0.5"/>
<line x1="323.20" y1="226.55" x2="323.20" y2="228.21" stroke="#1f77b4" stroke-width="0.5"/>
<line x1="323.69" y1="221.60" x2="323.69" y2="228.27" stroke="#1f77b4" stroke-width="0.5"/>
<line x1="324.27" y1="223.05" x2="324.27" y2="228.35" stroke="#1f77b4" stroke-width="0.5"/>
<line x1="324.57" y1="222.15" x2="324.57" y2="228.39" stroke="#1f77b4" stroke-width="0.5"/>
<line x1="324.84" y1="220.88" x2="324.84" y2="228.42" stroke="#1f77b4" stroke-width="0.5"/>
<line x1="325.35" y1="221.83" x2="325.35" y2="228.49" stroke="#1f77b4" stroke-width="0.5"/>
<line x1="325.89" y1="223.94" x2="325.89" y2="228.56" stroke="#1f77b4" stroke-width="0.5"/>
<line x1="326.46" y1="223.42" x2="326.46" y2="228.63" stroke="#1f77b4" stroke-width="0.5"/>
<line x1="326.88" y1="225.63" x2="326.88" y2="228.69" stroke="#1f77b4" stroke-width="0.5"/>
<line x1="327.25" y1="228.15" x2="327.25" y2="228.73" stroke="#1f77b4" stroke-width="0.5"/>
<line x1="327.56" y1="222.15" x2="327.56" y2="228.77" stroke="#1f77b4" stroke-width="0.5"/>
<line x1="327.88" y1="223.49" x2="327.88" y2="228.82" stroke="#1f77b4" stroke-width="0.5"/>
<line x1="328.40" y1="223.19" x2="328.40" y2="228.88" stroke="#1f77b4" stroke-width="0.5"/>
<line x1="328.82" y1="226.42" x2="328.82" y2="228.94" stroke="#1f77b4" stroke-width="0.5"/>
<line x1="329.17" y1="227.40" x2="329.17" y2="228.98" stroke="#1f77b4" stroke-width="0.5"/>
<line x1="329.64" y1="223.44" x2="329.64" y2="229.04" stroke="#1f77b4" stroke-width="0.5"/>
<line x1="330.20" y1="226.49" x2="330.20" y2="229.11" stroke="#1f77b4" stroke-width="0.5"/>
<line x1="330.77" y1="221.52" x2="330.77" y2="229.19" stroke="#1f77b4" stroke-width="0.5"/>
<line x1="331.12" y1="221.19" x2="331.12" y2="229.23" stroke="#1f77b4" stroke-width="0.5"/>
<line x1="331.58" y1="221.15" x2="331.58" y2="229.29" stroke="#1f77b4" stroke-width="0.5"/>
<line x1="332.09" y1="226.72" x2="332.09" y2="229.36" stroke="#1f77b4" stroke-width="0.5"/>
<line x1="332.44" y1="225.24" x2="332.44" y2="229.40" stroke="#1f77b4" stroke-width="0.5"/>
<line x1="332.85" y1="228.81" x2="332.85" y2="229.46" stroke="#1f77b4" stroke-width="0.5"/>
<polyline points="207.50,192.40 208.56,192.46 209.63,192.46 210.69,192.66 211.75,192.40 212.82,192.40 213.88,192.67 214.95,192.50 216.01,192.59 217.07,192.47 218.14,192.49 219.20,192.80 220.30,192.69 221.40,192.77 222.50,192.99 223.60,192.78 224.70,192.62 225.80,192.59 226.90,192.47 228.00,192.60 229.10,192.40 230.20,192.52 231.30,191.83 232.40,191.84 233.50,191.70 234.62,191.59 235.75,191.41 236.88,191.06 238.00,190.80 239.23,193.32 240.47,195.93 241.70,198.10 243.10,201.20 244.10,202.99 245.10,204.30 246.10,204.65 247.10,205.30 248.15,206.82 249.20,208.30 250.20,209.60 251.20,210.30 252.35,210.77 253.50,211.20 254.90,213.01 256.30,215.20 257.65,216.36 259.00,217.20 260.23,216.70 261.47,216.52 262.70,216.50 263.82,217.18 264.95,217.66 266.07,218.58 267.20,219.10 268.40,219.76 269.60,220.04 270.80,220.84 272.00,221.20" fill="none" stroke="#ff7f0e" stroke-width="0.95" stroke-dasharray="3 0.5" stroke-linejoin="round"/>
<polyline points="272.00,221.08 272.35,221.96 272.70,220.99 273.05,222.46 273.40,220.67 273.75,222.64 274.10,221.76 274.45,222.32 274.80,220.67 275.15,223.64 275.50,221.08 275.85,222.95 276.20,221.48 276.55,223.96 276.90,221.62 277.25,223.50 277.60,222.25 277.95,223.94 278.30,222.27 278.65,223.71 279.00,222.37 279.35,224.87 279.70,222.68 280.05,224.94 280.40,221.80 280.75,224.59 281.10,221.89 281.45,225.43 281.80,222.65 282.15,224.98 282.50,222.33 282.85,224.35 283.20,223.73 283.55,225.32 283.90,223.45 284.25,225.81 284.60,224.30 284.95,226.34 285.30,223.27 285.65,226.36 286.00,224.42 286.35,226.04 286.70,223.76 287.05,226.42 287.40,224.80 287.75,226.88 288.10,224.78 288.45,226.23 288.80,224.30 289.15,227.06 289.50,224.43 289.85,227.08 290.20,224.36 290.55,226.95 290.90,224.71 291.25,227.80 291.60,225.60 291.95,227.70 292.30,225.17 292.65,227.04 293.00,225.30 293.35,228.29 293.70,226.40 294.05,227.23 294.40,226.34 294.75,228.66 295.10,226.27 295.45,228.13 295.80,225.63 296.15,228.37 296.50,227.25 296.85,228.72 297.20,226.79 297.55,229.43 297.90,226.93 298.25,230.12 298.60,227.38 298.95,229.60 299.30,228.05 299.65,230.28 300.00,227.60 300.35,231.31 300.70,227.19 301.05,229.81 301.40,227.11 301.75,230.47 302.10,227.31 302.45,231.28 302.80,229.45 303.15,232.05 303.50,229.55 303.85,232.67 304.20,229.05 304.55,231.15 304.90,229.96 305.25,232.47 305.60,229.66 305.95,232.00 306.30,230.36 306.65,232.21 307.00,230.22 307.35,233.69 307.70,230.82 308.05,233.24 308.40,230.73 308.75,232.52 309.10,230.05 309.45,233.31 309.80,230.79 310.15,233.73 310.50,232.55 310.85,235.10 311.20,231.87 311.55,234.77 311.90,231.94 312.25,235.95 312.60,232.50 312.95,234.41 313.30,232.85 313.65,236.23 314.00,233.46 314.35,236.18 314.70,231.98 315.05,235.98 315.40,233.05 315.75,236.46 316.10,234.72 316.45,236.63 316.80,234.87 317.15,237.51 317.50,234.59 317.85,238.57 318.20,233.56 318.55,237.13 318.90,234.90 319.25,237.02 319.60,234.26 319.95,238.89 320.30,234.44 320.65,238.41 321.00,233.70 321.35,239.15 321.70,235.79 322.05,240.10 322.40,235.02 322.75,238.22 323.10,237.11 323.45,240.36 323.80,235.09 324.15,241.04 324.50,235.05 324.85,239.26 325.20,237.28 325.55,241.15 325.90,236.76 326.25,240.09 326.60,235.57 326.95,239.98 327.30,238.41 327.65,242.15 328.00,238.17 328.35,240.89 328.70,237.25 329.05,240.58 329.40,237.11 329.75,242.15 330.10,237.65 330.45,242.53 330.80,239.52 331.15,242.38 331.50,239.10 331.85,241.28 332.20,238.07 332.55,244.08 332.90,239.63" fill="none" stroke="#ff7f0e" stroke-width="0.6" stroke-linejoin="round"/>
<polygon points="272.00,220.52 272.60,221.29 273.20,220.92 273.80,221.12 274.40,221.24 275.00,221.68 275.60,221.87 276.20,221.80 276.80,221.52 277.40,221.79 278.00,222.20 278.60,221.93 279.20,222.59 279.80,222.70 280.40,222.31 281.00,222.54 281.60,222.56 282.20,223.07 282.80,222.66 283.40,223.30 284.00,222.92 284.60,223.66 285.20,223.55 285.80,223.70 286.40,223.44 287.00,223.52 287.60,223.89 288.20,224.52 288.80,224.33 289.40,224.67 290.00,224.15 290.60,224.33 291.20,224.42 291.80,225.11 292.40,224.84 293.00,225.07 293.60,225.53 294.20,225.71 294.80,225.56 295.40,225.82 296.00,225.83 296.60,226.20 297.20,226.18 297.80,226.34 298.40,226.40 299.00,226.58 299.60,226.71 300.00,227.00 300.00,230.00 290.00,227.50 272.00,222.50" fill="#ff7f0e"/>
<polyline points="207.50,184.60 223.90,184.60 228.00,186.20 235.30,189.00 237.00,190.10 241.10,193.10 245.10,198.20 249.20,201.20 253.20,204.30 256.30,207.30 260.30,211.40 263.60,214.50 265.00,218.00 266.20,222.90 267.90,226.30 270.40,228.60 273.00,229.00" fill="none" stroke="#2ca02c" stroke-width="0.85" stroke-opacity="0.62" stroke-linejoin="round"/>
<polyline points="266.20,222.90 267.90,226.30 270.40,228.60 273.00,229.20" fill="none" stroke="#2ca02c" stroke-width="1.0" stroke-opacity="0.9" stroke-linejoin="round"/>
<polygon points="272.00,227.52 272.60,227.92 273.20,228.31 273.80,228.09 274.40,228.04 275.00,228.88 275.60,228.61 276.20,228.76 276.80,228.67 277.40,229.35 278.00,229.32 278.60,229.30 279.20,229.44 279.80,229.58 280.40,229.49 281.00,229.51 281.60,229.60 282.20,229.82 282.80,229.89 283.40,230.06 284.00,230.17 284.60,230.53 285.20,230.74 285.80,230.18 286.40,230.08 287.00,230.47 287.60,230.31 288.20,231.18 288.80,231.11 289.40,230.88 290.00,230.89 290.60,231.73 291.20,231.85 291.80,231.86 292.40,232.03 293.00,232.24 293.60,232.11 294.20,232.21 294.80,232.52 295.40,233.01 296.00,233.28 296.60,233.37 297.20,233.44 297.80,232.84 298.40,233.17 299.00,234.06 299.60,233.79 300.20,233.92 300.80,233.87 301.40,234.58 302.00,234.40 302.60,235.03 303.20,234.27 303.80,235.35 304.40,234.53 305.00,234.82 305.60,235.22 306.20,235.63 306.80,235.26 307.40,235.87 308.00,236.41 308.60,236.06 309.20,236.55 309.80,236.54 310.40,236.69 311.00,236.45 311.60,236.91 312.20,237.51 312.80,237.45 313.40,237.15 314.00,237.55 314.60,237.81 315.20,237.77 315.80,238.18 316.40,238.40 317.00,237.95 317.60,238.32 318.20,238.92 318.80,238.64 319.40,238.67 320.00,239.52 320.60,239.26 321.20,240.05 321.80,239.81 322.40,239.52 323.00,240.22 323.60,240.01 324.20,240.73 324.80,240.81 325.40,241.01 326.00,240.47 326.60,240.61 327.20,241.54 327.80,241.05 328.40,241.28 329.00,241.27 329.60,241.57 330.20,242.05 330.80,242.70 331.40,242.22 332.00,242.33 332.60,243.06 333.20,242.90 333.20,249.30 332.60,248.90 332.00,249.05 331.40,248.42 330.80,247.87 330.20,248.59 329.60,247.86 329.00,247.43 328.40,247.42 327.80,247.53 327.20,246.23 326.60,246.37 326.00,245.95 325.40,246.21 324.80,245.27 324.20,245.55 323.60,245.19 323.00,245.09 322.40,244.91 321.80,244.16 321.20,244.19 320.60,244.13 320.00,243.44 319.40,243.19 318.80,243.51 318.20,242.73 317.60,242.38 317.00,242.23 316.40,242.09 315.80,241.64 315.20,241.30 314.60,242.10 314.00,241.48 313.40,241.52 312.80,240.31 312.20,240.11 311.60,240.22 311.00,240.57 310.40,239.30 309.80,239.09 309.20,239.08 308.60,238.91 308.00,239.56 307.40,238.47 306.80,239.12 306.20,239.01 305.60,238.83 305.00,238.52 304.40,238.63 303.80,238.02 303.20,237.53 302.60,237.18 302.00,238.02 301.40,236.91 300.80,237.53 300.20,236.73 299.60,236.63 299.00,236.86 298.40,236.94 297.80,236.47 297.20,236.31 296.60,235.77 296.00,236.49 295.40,235.94 294.80,235.25 294.20,235.31 293.60,235.20 293.00,235.77 292.40,234.47 291.80,234.34 291.20,234.76 290.60,234.42 290.00,234.39 289.40,233.73 288.80,234.11 288.20,234.23 287.60,233.69 287.00,233.84 286.40,233.74 285.80,233.97 285.20,233.49 284.60,233.52 284.00,232.71 283.40,232.51 282.80,232.30 282.20,232.02 281.60,232.60 281.00,232.75 280.40,231.84 279.80,231.65 279.20,232.38 278.60,231.67 278.00,231.16 277.40,231.65 276.80,230.95 276.20,231.49 275.60,230.82 275.00,230.89 274.40,230.13 273.80,231.05 273.20,230.52 272.60,230.41 272.00,229.72" fill="#2ca02c"/>
<polyline points="393.70,161.30 427.40,208.90 461.50,233.30 496.30,240.20 514.40,249.60" fill="none" stroke="#1f77b4" stroke-width="0.9" stroke-linejoin="round"/>
<line x1="75" y1="162.7" x2="95.2" y2="162.7" stroke="#1f77b4" stroke-width="0.9" stroke-dasharray="1.8 0.7"/>
<line x1="75" y1="172.5" x2="95.2" y2="172.5" stroke="#ff7f0e" stroke-width="0.9" stroke-dasharray="1.8 0.7"/>
<line x1="75" y1="182.6" x2="95.2" y2="182.6" stroke="#2ca02c" stroke-width="0.9"/>
<text class="l lg" x="97.4" y="166.1">X-momentum</text>
<text class="l lg" x="97.4" y="175.7">Y-momentum</text>
<text class="l lg" x="97.4" y="185.8">Continuity</text>
<rect x="418.9" y="160.9" width="96.5" height="16.9" rx="1.5" fill="#fff" fill-opacity="0.8" stroke="#d4d4d4" stroke-width="0.8"/>
<line x1="422.7" y1="169.4" x2="442.2" y2="169.4" stroke="#1f77b4" stroke-width="0.9"/>
<text class="l lg" x="449.1" y="173">Residual Sum</text>
<line x1="36.30" y1="98.00" x2="36.30" y2="100.00" class="tk"/>
<text x="36.30" y="107.60" text-anchor="middle" class="t">10<tspan class="s" dy="-3.4">0</tspan></text>
<line x1="61.36" y1="98.00" x2="61.36" y2="100.00" class="tk"/>
<text x="61.36" y="107.60" text-anchor="middle" class="t">10<tspan class="s" dy="-3.4">1</tspan></text>
<line x1="86.42" y1="98.00" x2="86.42" y2="100.00" class="tk"/>
<text x="86.42" y="107.60" text-anchor="middle" class="t">10<tspan class="s" dy="-3.4">2</tspan></text>
<line x1="111.48" y1="98.00" x2="111.48" y2="100.00" class="tk"/>
<text x="111.48" y="107.60" text-anchor="middle" class="t">10<tspan class="s" dy="-3.4">3</tspan></text>
<line x1="136.54" y1="98.00" x2="136.54" y2="100.00" class="tk"/>
<text x="136.54" y="107.60" text-anchor="middle" class="t">10<tspan class="s" dy="-3.4">4</tspan></text>
<line x1="161.60" y1="98.00" x2="161.60" y2="100.00" class="tk"/>
<text x="161.60" y="107.60" text-anchor="middle" class="t">10<tspan class="s" dy="-3.4">5</tspan></text>
<line x1="28.00" y1="14.96" x2="30.00" y2="14.96" class="tk"/>
<text x="27.20" y="18.26" text-anchor="end" class="t">10<tspan class="s" dy="-3.4">5</tspan></text>
<line x1="28.00" y1="35.62" x2="30.00" y2="35.62" class="tk"/>
<text x="27.20" y="38.92" text-anchor="end" class="t">10<tspan class="s" dy="-3.4">4</tspan></text>
<line x1="28.00" y1="56.28" x2="30.00" y2="56.28" class="tk"/>
<text x="27.20" y="59.58" text-anchor="end" class="t">10<tspan class="s" dy="-3.4">3</tspan></text>
<line x1="28.00" y1="76.94" x2="30.00" y2="76.94" class="tk"/>
<text x="27.20" y="80.24" text-anchor="end" class="t">10<tspan class="s" dy="-3.4">2</tspan></text>
<path d="M30.00 0.40 V98.00 H161.50 V0.40" class="sp"/>
<line x1="29.50" y1="0.40" x2="162.00" y2="0.40" stroke="#9c9c9c" stroke-width="1.0"/>
<text class="l" text-anchor="middle" transform="translate(7.60 49.20) rotate(-90)">Residual</text>
<text class="l" x="95.90" y="119.00" text-anchor="middle">Iteration number</text>
<text class="c" x="97.80" y="134.60" text-anchor="middle">(a)</text>
<line x1="212.90" y1="98.00" x2="212.90" y2="100.00" class="tk"/>
<text x="212.90" y="107.60" text-anchor="middle" class="t">10<tspan class="s" dy="-3.4">0</tspan></text>
<line x1="238.11" y1="98.00" x2="238.11" y2="100.00" class="tk"/>
<text x="238.11" y="107.60" text-anchor="middle" class="t">10<tspan class="s" dy="-3.4">1</tspan></text>
<line x1="263.32" y1="98.00" x2="263.32" y2="100.00" class="tk"/>
<text x="263.32" y="107.60" text-anchor="middle" class="t">10<tspan class="s" dy="-3.4">2</tspan></text>
<line x1="288.53" y1="98.00" x2="288.53" y2="100.00" class="tk"/>
<text x="288.53" y="107.60" text-anchor="middle" class="t">10<tspan class="s" dy="-3.4">3</tspan></text>
<line x1="313.74" y1="98.00" x2="313.74" y2="100.00" class="tk"/>
<text x="313.74" y="107.60" text-anchor="middle" class="t">10<tspan class="s" dy="-3.4">4</tspan></text>
<line x1="338.95" y1="98.00" x2="338.95" y2="100.00" class="tk"/>
<text x="338.95" y="107.60" text-anchor="middle" class="t">10<tspan class="s" dy="-3.4">5</tspan></text>
<line x1="205.30" y1="14.35" x2="207.30" y2="14.35" class="tk"/>
<text x="204.50" y="17.65" text-anchor="end" class="t">10<tspan class="s" dy="-3.4">5</tspan></text>
<line x1="205.30" y1="36.45" x2="207.30" y2="36.45" class="tk"/>
<text x="204.50" y="39.75" text-anchor="end" class="t">10<tspan class="s" dy="-3.4">4</tspan></text>
<line x1="205.30" y1="58.55" x2="207.30" y2="58.55" class="tk"/>
<text x="204.50" y="61.85" text-anchor="end" class="t">10<tspan class="s" dy="-3.4">3</tspan></text>
<line x1="205.30" y1="80.65" x2="207.30" y2="80.65" class="tk"/>
<text x="204.50" y="83.95" text-anchor="end" class="t">10<tspan class="s" dy="-3.4">2</tspan></text>
<path d="M207.30 0.40 V98.00 H339.20 V0.40" class="sp"/>
<line x1="206.80" y1="0.40" x2="339.70" y2="0.40" stroke="#9c9c9c" stroke-width="1.0"/>
<text class="l" text-anchor="middle" transform="translate(184.50 49.20) rotate(-90)">Residual</text>
<text class="l" x="273.20" y="119.00" text-anchor="middle">Iteration number</text>
<text class="c" x="274.00" y="134.60" text-anchor="middle">(b)</text>
<line x1="391.80" y1="98.00" x2="391.80" y2="100.00" class="tk"/>
<text x="391.80" y="107.60" text-anchor="middle" class="t">10<tspan class="s" dy="-3.4">0</tspan></text>
<line x1="415.66" y1="98.00" x2="415.66" y2="100.00" class="tk"/>
<text x="415.66" y="107.60" text-anchor="middle" class="t">10<tspan class="s" dy="-3.4">1</tspan></text>
<line x1="439.52" y1="98.00" x2="439.52" y2="100.00" class="tk"/>
<text x="439.52" y="107.60" text-anchor="middle" class="t">10<tspan class="s" dy="-3.4">2</tspan></text>
<line x1="463.38" y1="98.00" x2="463.38" y2="100.00" class="tk"/>
<text x="463.38" y="107.60" text-anchor="middle" class="t">10<tspan class="s" dy="-3.4">3</tspan></text>
<line x1="487.24" y1="98.00" x2="487.24" y2="100.00" class="tk"/>
<text x="487.24" y="107.60" text-anchor="middle" class="t">10<tspan class="s" dy="-3.4">4</tspan></text>
<line x1="511.10" y1="98.00" x2="511.10" y2="100.00" class="tk"/>
<text x="511.10" y="107.60" text-anchor="middle" class="t">10<tspan class="s" dy="-3.4">5</tspan></text>
<line x1="384.00" y1="21.37" x2="386.00" y2="21.37" class="tk"/>
<text x="383.20" y="24.67" text-anchor="end" class="t">10<tspan class="s" dy="-3.4">4</tspan></text>
<line x1="384.00" y1="51.47" x2="386.00" y2="51.47" class="tk"/>
<text x="383.20" y="54.77" text-anchor="end" class="t">10<tspan class="s" dy="-3.4">2</tspan></text>
<line x1="384.00" y1="81.57" x2="386.00" y2="81.57" class="tk"/>
<text x="383.20" y="84.87" text-anchor="end" class="t">10<tspan class="s" dy="-3.4">0</tspan></text>
<path d="M386.00 0.40 V98.00 H517.20 V0.40" class="sp"/>
<line x1="385.50" y1="0.40" x2="517.70" y2="0.40" stroke="#9c9c9c" stroke-width="1.0"/>
<text class="l" text-anchor="middle" transform="translate(362.00 50.30) rotate(-90)">Residual</text>
<text class="l" x="451.60" y="118.60" text-anchor="middle">Iteration number</text>
<text class="c" x="450.20" y="134.60" text-anchor="middle">(c)</text>
<line x1="68.70" y1="255.30" x2="68.70" y2="257.30" class="tk"/>
<text x="68.70" y="264.90" text-anchor="middle" class="t">10<tspan class="s" dy="-3.4">1</tspan></text>
<line x1="134.00" y1="255.30" x2="134.00" y2="257.30" class="tk"/>
<text x="134.00" y="264.90" text-anchor="middle" class="t">10<tspan class="s" dy="-3.4">3</tspan></text>
<line x1="28.50" y1="172.50" x2="30.50" y2="172.50" class="tk"/>
<text x="27.70" y="175.80" text-anchor="end" class="t">10<tspan class="s" dy="-3.4">2</tspan></text>
<line x1="28.50" y1="203.60" x2="30.50" y2="203.60" class="tk"/>
<text x="27.70" y="206.90" text-anchor="end" class="t">10<tspan class="s" dy="-3.4">1</tspan></text>
<line x1="28.50" y1="234.70" x2="30.50" y2="234.70" class="tk"/>
<text x="27.70" y="238.00" text-anchor="end" class="t">10<tspan class="s" dy="-3.4">0</tspan></text>
<path d="M30.50 157.50 V255.30 H162.50 V157.50" class="sp"/>
<line x1="30.00" y1="157.50" x2="163.00" y2="157.50" stroke="#484848" stroke-width="1.0"/>
<text class="l" text-anchor="middle" transform="translate(7.40 204.30) rotate(-90)">Residual</text>
<text class="l" x="96.30" y="276.30" text-anchor="middle">Iteration number</text>
<text class="c" x="97.70" y="292.50" text-anchor="middle">(d)</text>
<line x1="244.90" y1="255.30" x2="244.90" y2="257.30" class="tk"/>
<text x="244.90" y="264.90" text-anchor="middle" class="t">10<tspan class="s" dy="-3.4">1</tspan></text>
<line x1="310.80" y1="255.30" x2="310.80" y2="257.30" class="tk"/>
<text x="310.80" y="264.90" text-anchor="middle" class="t">10<tspan class="s" dy="-3.4">3</tspan></text>
<line x1="204.70" y1="173.20" x2="206.70" y2="173.20" class="tk"/>
<text x="203.90" y="176.50" text-anchor="end" class="t">10<tspan class="s" dy="-3.4">2</tspan></text>
<line x1="204.70" y1="208.15" x2="206.70" y2="208.15" class="tk"/>
<text x="203.90" y="211.45" text-anchor="end" class="t">10<tspan class="s" dy="-3.4">1</tspan></text>
<line x1="204.70" y1="243.10" x2="206.70" y2="243.10" class="tk"/>
<text x="203.90" y="246.40" text-anchor="end" class="t">10<tspan class="s" dy="-3.4">0</tspan></text>
<path d="M206.70 157.70 V255.30 H338.50 V157.70" class="sp"/>
<line x1="206.20" y1="157.70" x2="339.00" y2="157.70" stroke="#484848" stroke-width="1.0"/>
<text class="l" text-anchor="middle" transform="translate(184.50 205.20) rotate(-90)">Residual</text>
<text class="l" x="273.00" y="276.30" text-anchor="middle">Iteration number</text>
<text class="c" x="273.40" y="292.50" text-anchor="middle">(e)</text>
<line x1="427.20" y1="255.30" x2="427.20" y2="257.30" class="tk"/>
<text x="427.20" y="264.90" text-anchor="middle" class="t">10<tspan class="s" dy="-3.4">1</tspan></text>
<line x1="495.30" y1="255.30" x2="495.30" y2="257.30" class="tk"/>
<text x="495.30" y="264.90" text-anchor="middle" class="t">10<tspan class="s" dy="-3.4">3</tspan></text>
<line x1="386.00" y1="170.40" x2="388.00" y2="170.40" class="tk"/>
<text x="385.20" y="173.70" text-anchor="end" class="t">10<tspan class="s" dy="-3.4">1</tspan></text>
<line x1="386.00" y1="203.35" x2="388.00" y2="203.35" class="tk"/>
<text x="385.20" y="206.65" text-anchor="end" class="t">10<tspan class="s" dy="-3.4">0</tspan></text>
<line x1="386.00" y1="236.30" x2="388.00" y2="236.30" class="tk"/>
<text x="385.20" y="239.60" text-anchor="end" class="t">10<tspan class="s" dy="-3.4">−1</tspan></text>
<path d="M388.00 157.40 V255.30 H519.50 V157.40" class="sp"/>
<line x1="387.50" y1="157.40" x2="520.00" y2="157.40" stroke="#484848" stroke-width="1.0"/>
<text class="l" text-anchor="middle" transform="translate(361.20 205.70) rotate(-90)">Residual</text>
<text class="l" x="454.20" y="276.30" text-anchor="middle">Iteration number</text>
<text class="c" x="449.90" y="292.50" text-anchor="middle">(f)</text>
</svg>
</body></html>
